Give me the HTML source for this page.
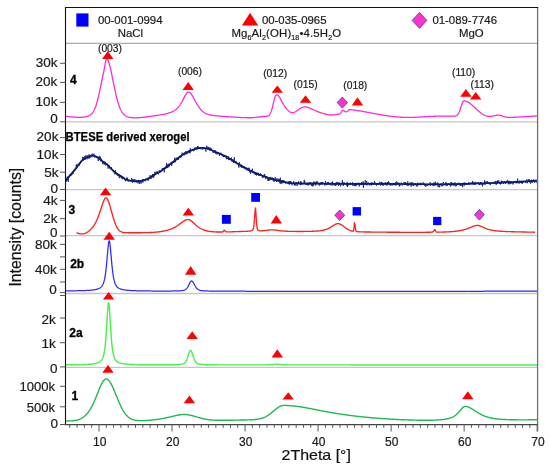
<!DOCTYPE html>
<html><head><meta charset="utf-8"><title>XRD patterns</title>
<style>html,body{margin:0;padding:0;background:#fff;width:550px;height:470px;overflow:hidden}svg{display:block}</style>
</head><body>
<svg width="550" height="470" viewBox="0 0 550 470">
<rect width="550" height="470" fill="#fff"/>
<line x1="65.5" y1="43.4" x2="537.5" y2="43.4" stroke="#ababab" stroke-width="1.2"/>
<line x1="65.5" y1="121.9" x2="537.5" y2="121.9" stroke="#c6c6c6" stroke-width="1.3"/>
<line x1="65.5" y1="189.6" x2="537.5" y2="189.6" stroke="#c6c6c6" stroke-width="1.3"/>
<line x1="65.5" y1="235.6" x2="537.5" y2="235.6" stroke="#c6c6c6" stroke-width="1.3"/>
<line x1="65.5" y1="293.5" x2="537.5" y2="293.5" stroke="#c6c6c6" stroke-width="1.3"/>
<line x1="65.5" y1="367.3" x2="537.5" y2="367.3" stroke="#c6c6c6" stroke-width="1.3"/>
<path d="M65.50 116.27L66.00 116.32L66.50 116.38L67.00 116.43L67.50 116.49L68.00 116.54L68.50 116.59L69.00 116.65L69.50 116.70L70.00 116.75L70.50 116.80L71.00 116.85L71.50 116.90L72.00 116.95L72.50 116.99L73.00 117.04L73.50 117.08L74.00 117.12L74.50 117.15L75.00 117.19L75.50 117.22L76.00 117.24L76.50 117.27L77.00 117.29L77.50 117.31L78.00 117.32L78.50 117.33L79.00 117.33L79.50 117.33L80.00 117.32L80.50 117.31L81.00 117.29L81.50 117.26L82.00 117.23L82.50 117.19L83.00 117.15L83.50 117.09L84.00 117.03L84.50 116.95L85.00 116.87L85.50 116.77L86.00 116.67L86.50 116.55L87.00 116.42L87.50 116.27L88.00 116.10L88.50 115.91L89.00 115.70L89.50 115.45L90.00 115.16L90.50 114.82L91.00 114.43L91.50 113.98L92.00 113.46L92.50 112.86L93.00 112.16L93.50 111.37L94.00 110.46L94.50 109.44L95.00 108.28L95.50 106.99L96.00 105.56L96.50 103.99L97.00 102.28L97.50 100.43L98.00 98.45L98.50 96.35L99.00 94.14L99.50 91.84L100.00 89.47L100.50 87.06L101.00 84.62L101.50 82.17L102.00 79.75L102.50 77.36L103.00 75.01L103.50 72.68L104.00 70.29L104.50 67.67L105.00 64.89L105.50 62.18L106.00 59.92L106.50 58.60L107.00 58.61L107.50 59.33L108.00 60.32L108.50 61.56L109.00 63.04L109.50 64.74L110.00 66.64L110.50 68.70L111.00 70.91L111.50 73.24L112.00 75.65L112.50 78.12L113.00 80.62L113.50 83.12L114.00 85.60L114.50 88.04L115.00 90.41L115.50 92.70L116.00 94.89L116.50 96.98L117.00 98.95L117.50 100.80L118.00 102.52L118.50 104.12L119.00 105.59L119.50 106.94L120.00 108.18L120.50 109.30L121.00 110.31L121.50 111.22L122.00 112.04L122.50 112.78L123.00 113.43L123.50 114.01L124.00 114.52L124.50 114.98L125.00 115.38L125.50 115.73L126.00 116.04L126.50 116.30L127.00 116.54L127.50 116.74L128.00 116.92L128.50 117.07L129.00 117.21L129.50 117.32L130.00 117.42L130.50 117.50L131.00 117.57L131.50 117.62L132.00 117.67L132.50 117.71L133.00 117.74L133.50 117.76L134.00 117.78L134.50 117.79L135.00 117.80L135.50 117.80L136.00 117.79L136.50 117.78L137.00 117.76L137.50 117.74L138.00 117.71L138.50 117.68L139.00 117.65L139.50 117.61L140.00 117.57L140.50 117.53L141.00 117.49L141.50 117.44L142.00 117.39L142.50 117.34L143.00 117.29L143.50 117.23L144.00 117.18L144.50 117.12L145.00 117.06L145.50 117.00L146.00 116.94L146.50 116.88L147.00 116.82L147.50 116.75L148.00 116.69L148.50 116.62L149.00 116.55L149.50 116.49L150.00 116.42L150.50 116.35L151.00 116.28L151.50 116.21L152.00 116.14L152.50 116.07L153.00 116.00L153.50 115.93L154.00 115.85L154.50 115.78L155.00 115.71L155.50 115.64L156.00 115.56L156.50 115.49L157.00 115.42L157.50 115.34L158.00 115.27L158.50 115.20L159.00 115.12L159.50 115.05L160.00 114.97L160.50 114.89L161.00 114.81L161.50 114.73L162.00 114.65L162.50 114.56L163.00 114.46L163.50 114.37L164.00 114.26L164.50 114.16L165.00 114.05L165.50 113.94L166.00 113.82L166.50 113.69L167.00 113.56L167.50 113.43L168.00 113.29L168.50 113.14L169.00 112.98L169.50 112.81L170.00 112.64L170.50 112.46L171.00 112.26L171.50 112.05L172.00 111.83L172.50 111.60L173.00 111.35L173.50 111.08L174.00 110.79L174.50 110.48L175.00 110.15L175.50 109.80L176.00 109.41L176.50 109.00L177.00 108.55L177.50 108.06L178.00 107.54L178.50 106.97L179.00 106.37L179.50 105.71L180.00 105.01L180.50 104.26L181.00 103.47L181.50 102.62L182.00 101.73L182.50 100.80L183.00 99.83L183.50 98.84L184.00 97.84L184.50 96.84L185.00 95.87L185.50 94.95L186.00 94.11L186.50 93.38L187.00 92.78L187.50 92.34L188.00 92.09L188.50 92.02L189.00 92.12L189.50 92.34L190.00 92.69L190.50 93.16L191.00 93.73L191.50 94.39L192.00 95.13L192.50 95.93L193.00 96.79L193.50 97.68L194.00 98.59L194.50 99.52L195.00 100.46L195.50 101.38L196.00 102.30L196.50 103.20L197.00 104.07L197.50 104.91L198.00 105.73L198.50 106.50L199.00 107.24L199.50 107.94L200.00 108.60L200.50 109.21L201.00 109.79L201.50 110.33L202.00 110.83L202.50 111.29L203.00 111.71L203.50 112.10L204.00 112.46L204.50 112.78L205.00 113.08L205.50 113.35L206.00 113.60L206.50 113.82L207.00 114.02L207.50 114.20L208.00 114.37L208.50 114.52L209.00 114.66L209.50 114.78L210.00 114.90L210.50 115.00L211.00 115.10L211.50 115.18L212.00 115.26L212.50 115.34L213.00 115.41L213.50 115.47L214.00 115.54L214.50 115.59L215.00 115.65L215.50 115.70L216.00 115.75L216.50 115.80L217.00 115.84L217.50 115.89L218.00 115.94L218.50 115.98L219.00 116.02L219.50 116.07L220.00 116.11L220.50 116.15L221.00 116.19L221.50 116.23L222.00 116.28L222.50 116.32L223.00 116.36L223.50 116.39L224.00 116.43L224.50 116.47L225.00 116.51L225.50 116.55L226.00 116.59L226.50 116.63L227.00 116.66L227.50 116.70L228.00 116.74L228.50 116.77L229.00 116.81L229.50 116.85L230.00 116.88L230.50 116.92L231.00 116.95L231.50 116.98L232.00 117.02L232.50 117.05L233.00 117.08L233.50 117.12L234.00 117.15L234.50 117.18L235.00 117.21L235.50 117.24L236.00 117.27L236.50 117.30L237.00 117.33L237.50 117.36L238.00 117.38L238.50 117.41L239.00 117.44L239.50 117.46L240.00 117.48L240.50 117.51L241.00 117.53L241.50 117.55L242.00 117.57L242.50 117.59L243.00 117.61L243.50 117.63L244.00 117.65L244.50 117.67L245.00 117.68L245.50 117.69L246.00 117.71L246.50 117.72L247.00 117.73L247.50 117.74L248.00 117.75L248.50 117.76L249.00 117.76L249.50 117.77L250.00 117.77L250.50 117.77L251.00 117.76L251.50 117.75L252.00 117.72L252.50 117.69L253.00 117.66L253.50 117.61L254.00 117.57L254.50 117.52L255.00 117.46L255.50 117.40L256.00 117.34L256.50 117.28L257.00 117.21L257.50 117.15L258.00 117.08L258.50 117.02L259.00 116.95L259.50 116.88L260.00 116.82L260.50 116.76L261.00 116.70L261.50 116.64L262.00 116.59L262.50 116.54L263.00 116.50L263.50 116.46L264.00 116.43L264.50 116.40L265.00 116.37L265.50 116.34L266.00 116.31L266.50 116.27L267.00 116.19L267.50 116.08L268.00 115.90L268.50 115.63L269.00 115.25L269.50 114.72L270.00 114.00L270.50 113.06L271.00 111.89L271.50 110.46L272.00 108.78L272.50 106.89L273.00 104.84L273.50 102.72L274.00 100.65L274.50 98.73L275.00 97.11L275.50 95.87L276.00 95.11L276.50 94.84L277.00 94.83L277.50 95.00L278.00 95.35L278.50 95.86L279.00 96.50L279.50 97.25L280.00 98.09L280.50 98.99L281.00 99.93L281.50 100.88L282.00 101.83L282.50 102.76L283.00 103.66L283.50 104.52L284.00 105.33L284.50 106.10L285.00 106.82L285.50 107.49L286.00 108.14L286.50 108.76L287.00 109.34L287.50 109.89L288.00 110.40L288.50 110.87L289.00 111.29L289.50 111.67L290.00 111.99L290.50 112.25L291.00 112.46L291.50 112.60L292.00 112.68L292.50 112.70L293.00 112.66L293.50 112.56L294.00 112.42L294.50 112.22L295.00 111.98L295.50 111.71L296.00 111.41L296.50 111.08L297.00 110.74L297.50 110.38L298.00 110.02L298.50 109.66L299.00 109.31L299.50 108.96L300.00 108.63L300.50 108.32L301.00 108.03L301.50 107.77L302.00 107.54L302.50 107.34L303.00 107.18L303.50 107.05L304.00 106.96L304.50 106.91L305.00 106.89L305.50 106.90L306.00 106.94L306.50 107.01L307.00 107.10L307.50 107.22L308.00 107.37L308.50 107.53L309.00 107.71L309.50 107.91L310.00 108.12L310.50 108.34L311.00 108.57L311.50 108.81L312.00 109.05L312.50 109.30L313.00 109.54L313.50 109.79L314.00 110.03L314.50 110.27L315.00 110.50L315.50 110.73L316.00 110.95L316.50 111.17L317.00 111.37L317.50 111.57L318.00 111.77L318.50 111.95L319.00 112.13L319.50 112.30L320.00 112.46L320.50 112.62L321.00 112.77L321.50 112.93L322.00 113.09L322.50 113.25L323.00 113.41L323.50 113.56L324.00 113.71L324.50 113.85L325.00 113.99L325.50 114.12L326.00 114.25L326.50 114.37L327.00 114.48L327.50 114.59L328.00 114.68L328.50 114.77L329.00 114.84L329.50 114.90L330.00 114.94L330.50 114.98L331.00 115.00L331.50 115.00L332.00 114.99L332.50 114.97L333.00 114.94L333.50 114.90L334.00 114.85L334.50 114.79L335.00 114.74L335.50 114.67L336.00 114.60L336.50 114.54L337.00 114.47L337.50 114.39L338.00 114.32L338.50 114.24L339.00 114.15L339.50 114.02L340.00 113.80L340.50 113.41L341.00 112.80L341.50 111.94L342.00 110.99L342.50 110.30L343.00 110.22L343.50 110.47L344.00 110.87L344.50 111.27L345.00 111.57L345.50 111.74L346.00 111.79L346.50 111.70L347.00 111.50L347.50 111.19L348.00 110.81L348.50 110.38L349.00 109.98L349.50 109.67L350.00 109.53L350.50 109.58L351.00 109.67L351.50 109.75L352.00 109.83L352.50 109.90L353.00 109.97L353.50 110.05L354.00 110.12L354.50 110.19L355.00 110.26L355.50 110.33L356.00 110.40L356.50 110.47L357.00 110.54L357.50 110.61L358.00 110.68L358.50 110.76L359.00 110.83L359.50 110.91L360.00 110.99L360.50 111.07L361.00 111.15L361.50 111.23L362.00 111.31L362.50 111.39L363.00 111.48L363.50 111.56L364.00 111.65L364.50 111.74L365.00 111.83L365.50 111.91L366.00 112.00L366.50 112.10L367.00 112.19L367.50 112.28L368.00 112.37L368.50 112.46L369.00 112.56L369.50 112.65L370.00 112.74L370.50 112.84L371.00 112.93L371.50 113.03L372.00 113.12L372.50 113.22L373.00 113.31L373.50 113.41L374.00 113.50L374.50 113.60L375.00 113.69L375.50 113.78L376.00 113.88L376.50 113.97L377.00 114.06L377.50 114.15L378.00 114.25L378.50 114.34L379.00 114.43L379.50 114.51L380.00 114.60L380.50 114.69L381.00 114.78L381.50 114.86L382.00 114.95L382.50 115.03L383.00 115.11L383.50 115.19L384.00 115.27L384.50 115.35L385.00 115.43L385.50 115.51L386.00 115.58L386.50 115.66L387.00 115.73L387.50 115.80L388.00 115.87L388.50 115.94L389.00 116.01L389.50 116.08L390.00 116.14L390.50 116.20L391.00 116.27L391.50 116.33L392.00 116.39L392.50 116.44L393.00 116.50L393.50 116.55L394.00 116.61L394.50 116.66L395.00 116.71L395.50 116.76L396.00 116.81L396.50 116.86L397.00 116.90L397.50 116.94L398.00 116.99L398.50 117.03L399.00 117.07L399.50 117.11L400.00 117.14L400.50 117.18L401.00 117.21L401.50 117.24L402.00 117.27L402.50 117.29L403.00 117.31L403.50 117.33L404.00 117.35L404.50 117.37L405.00 117.38L405.50 117.39L406.00 117.40L406.50 117.40L407.00 117.41L407.50 117.41L408.00 117.41L408.50 117.40L409.00 117.40L409.50 117.40L410.00 117.39L410.50 117.38L411.00 117.37L411.50 117.36L412.00 117.34L412.50 117.33L413.00 117.31L413.50 117.30L414.00 117.28L414.50 117.26L415.00 117.24L415.50 117.22L416.00 117.19L416.50 117.17L417.00 117.15L417.50 117.12L418.00 117.10L418.50 117.07L419.00 117.04L419.50 117.02L420.00 116.99L420.50 116.96L421.00 116.93L421.50 116.90L422.00 116.88L422.50 116.85L423.00 116.82L423.50 116.79L424.00 116.76L424.50 116.73L425.00 116.70L425.50 116.67L426.00 116.64L426.50 116.62L427.00 116.59L427.50 116.56L428.00 116.53L428.50 116.51L429.00 116.48L429.50 116.46L430.00 116.43L430.50 116.41L431.00 116.38L431.50 116.36L432.00 116.34L432.50 116.32L433.00 116.30L433.50 116.28L434.00 116.26L434.50 116.25L435.00 116.23L435.50 116.22L436.00 116.20L436.50 116.19L437.00 116.18L437.50 116.17L438.00 116.16L438.50 116.16L439.00 116.15L439.50 116.15L440.00 116.15L440.50 116.15L441.00 116.15L441.50 116.15L442.00 116.15L442.50 116.15L443.00 116.15L443.50 116.15L444.00 116.15L444.50 116.15L445.00 116.15L445.50 116.14L446.00 116.14L446.50 116.14L447.00 116.14L447.50 116.14L448.00 116.14L448.50 116.14L449.00 116.14L449.50 116.14L450.00 116.14L450.50 116.14L451.00 116.14L451.50 116.14L452.00 116.14L452.50 116.13L453.00 116.13L453.50 116.12L454.00 116.10L454.50 116.07L455.00 116.02L455.50 115.92L456.00 115.77L456.50 115.55L457.00 115.23L457.50 114.78L458.00 114.17L458.50 113.40L459.00 112.43L459.50 111.28L460.00 109.95L460.50 108.49L461.00 106.94L461.50 105.39L462.00 103.93L462.50 102.65L463.00 101.65L463.50 101.00L464.00 100.76L464.50 100.82L465.00 100.92L465.50 101.05L466.00 101.21L466.50 101.39L467.00 101.61L467.50 101.85L468.00 102.12L468.50 102.41L469.00 102.73L469.50 103.07L470.00 103.43L470.50 103.81L471.00 104.20L471.50 104.61L472.00 105.04L472.50 105.47L473.00 105.92L473.50 106.38L474.00 106.84L474.50 107.31L475.00 107.78L475.50 108.25L476.00 108.72L476.50 109.19L477.00 109.65L477.50 110.11L478.00 110.56L478.50 111.00L479.00 111.44L479.50 111.86L480.00 112.27L480.50 112.66L481.00 113.04L481.50 113.41L482.00 113.76L482.50 114.09L483.00 114.40L483.50 114.69L484.00 114.97L484.50 115.22L485.00 115.45L485.50 115.65L486.00 115.83L486.50 115.98L487.00 116.11L487.50 116.22L488.00 116.29L488.50 116.35L489.00 116.38L489.50 116.39L490.00 116.38L490.50 116.35L491.00 116.30L491.50 116.23L492.00 116.15L492.50 116.06L493.00 115.96L493.50 115.85L494.00 115.75L494.50 115.64L495.00 115.53L495.50 115.43L496.00 115.34L496.50 115.26L497.00 115.19L497.50 115.13L498.00 115.10L498.50 115.08L499.00 115.09L499.50 115.15L500.00 115.24L500.50 115.37L501.00 115.52L501.50 115.69L502.00 115.87L502.50 116.06L503.00 116.25L503.50 116.43L504.00 116.60L504.50 116.75L505.00 116.88L505.50 117.00L506.00 117.09L506.50 117.17L507.00 117.24L507.50 117.28L508.00 117.32L508.50 117.34L509.00 117.36L509.50 117.37L510.00 117.37L510.50 117.36L511.00 117.36L511.50 117.35L512.00 117.34L512.50 117.32L513.00 117.31L513.50 117.29L514.00 117.27L514.50 117.25L515.00 117.23L515.50 117.21L516.00 117.19L516.50 117.17L517.00 117.15L517.50 117.12L518.00 117.10L518.50 117.07L519.00 117.05L519.50 117.03L520.00 117.00L520.50 116.97L521.00 116.95L521.50 116.92L522.00 116.89L522.50 116.87L523.00 116.84L523.50 116.81L524.00 116.78L524.50 116.75L525.00 116.72L525.50 116.69L526.00 116.66L526.50 116.63L527.00 116.60L527.50 116.57L528.00 116.54L528.50 116.50L529.00 116.47L529.50 116.44L530.00 116.40L530.50 116.37L531.00 116.34L531.50 116.30L532.00 116.27L532.50 116.23L533.00 116.19L533.50 116.16L534.00 116.12L534.50 116.09L535.00 116.05L535.50 116.01L536.00 115.97L536.50 115.94L537.00 115.90L537.50 115.86" fill="none" stroke="#ff2ad6" stroke-width="1.3" stroke-linejoin="round"/>
<path d="M76.50 232.73L77.00 232.92L77.50 233.09L78.00 233.25L78.50 233.40L79.00 233.54L79.50 233.65L80.00 233.75L80.50 233.83L81.00 233.89L81.50 233.92L82.00 233.93L82.50 233.92L83.00 233.87L83.50 233.79L84.00 233.68L84.50 233.53L85.00 233.35L85.50 233.13L86.00 232.89L86.50 232.62L87.00 232.33L87.50 232.01L88.00 231.66L88.50 231.29L89.00 230.89L89.50 230.47L90.00 230.02L90.50 229.55L91.00 229.06L91.50 228.54L92.00 228.00L92.50 227.42L93.00 226.79L93.50 226.10L94.00 225.35L94.50 224.54L95.00 223.67L95.50 222.74L96.00 221.74L96.50 220.68L97.00 219.57L97.50 218.39L98.00 217.15L98.50 215.87L99.00 214.53L99.50 213.14L100.00 211.72L100.50 210.26L101.00 208.78L101.50 207.29L102.00 205.80L102.50 204.32L103.00 202.89L103.50 201.54L104.00 200.31L104.50 199.25L105.00 198.42L105.50 197.91L106.00 197.75L106.50 197.99L107.00 198.55L107.50 199.35L108.00 200.36L108.50 201.57L109.00 202.95L109.50 204.48L110.00 206.12L110.50 207.86L111.00 209.65L111.50 211.46L112.00 213.28L112.50 215.07L113.00 216.82L113.50 218.50L114.00 220.10L114.50 221.60L115.00 223.00L115.50 224.28L116.00 225.45L116.50 226.51L117.00 227.46L117.50 228.29L118.00 229.03L118.50 229.66L119.00 230.21L119.50 230.68L120.00 231.07L120.50 231.41L121.00 231.68L121.50 231.91L122.00 232.09L122.50 232.24L123.00 232.35L123.50 232.44L124.00 232.52L124.50 232.57L125.00 232.61L125.50 232.64L126.00 232.66L126.50 232.68L127.00 232.69L127.50 232.70L128.00 232.70L128.50 232.70L129.00 232.71L129.50 232.71L130.00 232.71L130.50 232.71L131.00 232.71L131.50 232.71L132.00 232.71L132.50 232.71L133.00 232.71L133.50 232.71L134.00 232.71L134.50 232.71L135.00 232.71L135.50 232.71L136.00 232.71L136.50 232.71L137.00 232.71L137.50 232.71L138.00 232.71L138.50 232.71L139.00 232.71L139.50 232.70L140.00 232.70L140.50 232.70L141.00 232.70L141.50 232.70L142.00 232.69L142.50 232.69L143.00 232.68L143.50 232.68L144.00 232.67L144.50 232.67L145.00 232.66L145.50 232.65L146.00 232.64L146.50 232.63L147.00 232.62L147.50 232.61L148.00 232.59L148.50 232.58L149.00 232.56L149.50 232.54L150.00 232.53L150.50 232.50L151.00 232.48L151.50 232.46L152.00 232.43L152.50 232.40L153.00 232.37L153.50 232.34L154.00 232.31L154.50 232.27L155.00 232.23L155.50 232.19L156.00 232.15L156.50 232.10L157.00 232.05L157.50 232.00L158.00 231.94L158.50 231.88L159.00 231.82L159.50 231.75L160.00 231.69L160.50 231.61L161.00 231.54L161.50 231.46L162.00 231.37L162.50 231.29L163.00 231.20L163.50 231.10L164.00 231.00L164.50 230.90L165.00 230.79L165.50 230.68L166.00 230.56L166.50 230.43L167.00 230.30L167.50 230.17L168.00 230.03L168.50 229.88L169.00 229.72L169.50 229.56L170.00 229.38L170.50 229.20L171.00 229.01L171.50 228.82L172.00 228.61L172.50 228.39L173.00 228.17L173.50 227.93L174.00 227.68L174.50 227.42L175.00 227.15L175.50 226.87L176.00 226.57L176.50 226.27L177.00 225.95L177.50 225.63L178.00 225.29L178.50 224.94L179.00 224.58L179.50 224.22L180.00 223.85L180.50 223.48L181.00 223.10L181.50 222.72L182.00 222.35L182.50 221.99L183.00 221.63L183.50 221.29L184.00 220.97L184.50 220.67L185.00 220.40L185.50 220.16L186.00 219.96L186.50 219.79L187.00 219.67L187.50 219.58L188.00 219.55L188.50 219.57L189.00 219.65L189.50 219.82L190.00 220.04L190.50 220.33L191.00 220.67L191.50 221.05L192.00 221.47L192.50 221.92L193.00 222.38L193.50 222.86L194.00 223.34L194.50 223.82L195.00 224.29L195.50 224.75L196.00 225.20L196.50 225.63L197.00 226.05L197.50 226.45L198.00 226.83L198.50 227.20L199.00 227.54L199.50 227.87L200.00 228.18L200.50 228.47L201.00 228.74L201.50 228.99L202.00 229.23L202.50 229.46L203.00 229.67L203.50 229.86L204.00 230.04L204.50 230.21L205.00 230.37L205.50 230.52L206.00 230.66L206.50 230.78L207.00 230.90L207.50 231.01L208.00 231.11L208.50 231.20L209.00 231.29L209.50 231.37L210.00 231.44L210.50 231.51L211.00 231.57L211.50 231.63L212.00 231.68L212.50 231.73L213.00 231.77L213.50 231.81L214.00 231.84L214.50 231.87L215.00 231.90L215.50 231.93L216.00 231.95L216.50 231.97L217.00 231.98L217.50 232.00L218.00 232.01L218.50 232.01L219.00 232.02L219.50 232.02L220.00 232.02L220.50 232.02L221.00 232.01L221.50 232.00L222.00 231.98L222.50 231.94L223.00 231.77L223.50 231.18L224.00 230.19L224.50 230.12L225.00 230.91L225.50 231.62L226.00 231.90L226.50 231.95L227.00 231.94L227.50 231.93L228.00 231.92L228.50 231.90L229.00 231.88L229.50 231.87L230.00 231.85L230.50 231.84L231.00 231.82L231.50 231.80L232.00 231.78L232.50 231.77L233.00 231.75L233.50 231.73L234.00 231.71L234.50 231.70L235.00 231.68L235.50 231.66L236.00 231.64L236.50 231.62L237.00 231.61L237.50 231.59L238.00 231.57L238.50 231.56L239.00 231.54L239.50 231.52L240.00 231.51L240.50 231.49L241.00 231.48L241.50 231.46L242.00 231.44L242.50 231.43L243.00 231.41L243.50 231.40L244.00 231.38L244.50 231.37L245.00 231.35L245.50 231.33L246.00 231.32L246.50 231.30L247.00 231.28L247.50 231.25L248.00 231.23L248.50 231.19L249.00 231.16L249.50 231.11L250.00 231.05L250.50 230.97L251.00 230.87L251.50 230.72L252.00 230.51L252.50 230.18L253.00 229.55L253.50 228.11L254.00 224.89L254.50 218.98L255.00 211.47L255.50 208.00L256.00 214.47L256.50 222.80L257.00 227.54L257.50 229.42L258.00 230.11L258.50 230.42L259.00 230.60L259.50 230.71L260.00 230.77L260.50 230.80L261.00 230.81L261.50 230.80L262.00 230.78L262.50 230.75L263.00 230.71L263.50 230.66L264.00 230.61L264.50 230.56L265.00 230.50L265.50 230.44L266.00 230.38L266.50 230.31L267.00 230.25L267.50 230.19L268.00 230.13L268.50 230.08L269.00 230.02L269.50 229.98L270.00 229.93L270.50 229.90L271.00 229.87L271.50 229.85L272.00 229.83L272.50 229.83L273.00 229.83L273.50 229.85L274.00 229.88L274.50 229.93L275.00 229.99L275.50 230.06L276.00 230.13L276.50 230.21L277.00 230.29L277.50 230.37L278.00 230.45L278.50 230.52L279.00 230.60L279.50 230.67L280.00 230.73L280.50 230.79L281.00 230.85L281.50 230.90L282.00 230.95L282.50 230.99L283.00 231.03L283.50 231.07L284.00 231.10L284.50 231.14L285.00 231.16L285.50 231.19L286.00 231.22L286.50 231.24L287.00 231.26L287.50 231.28L288.00 231.30L288.50 231.31L289.00 231.33L289.50 231.34L290.00 231.36L290.50 231.37L291.00 231.38L291.50 231.39L292.00 231.40L292.50 231.41L293.00 231.42L293.50 231.42L294.00 231.43L294.50 231.43L295.00 231.44L295.50 231.44L296.00 231.45L296.50 231.45L297.00 231.45L297.50 231.46L298.00 231.46L298.50 231.46L299.00 231.46L299.50 231.46L300.00 231.46L300.50 231.46L301.00 231.46L301.50 231.46L302.00 231.45L302.50 231.45L303.00 231.45L303.50 231.45L304.00 231.44L304.50 231.44L305.00 231.43L305.50 231.43L306.00 231.42L306.50 231.42L307.00 231.41L307.50 231.40L308.00 231.40L308.50 231.39L309.00 231.38L309.50 231.37L310.00 231.36L310.50 231.34L311.00 231.33L311.50 231.32L312.00 231.30L312.50 231.29L313.00 231.27L313.50 231.25L314.00 231.23L314.50 231.20L315.00 231.18L315.50 231.15L316.00 231.12L316.50 231.09L317.00 231.06L317.50 231.02L318.00 230.98L318.50 230.93L319.00 230.88L319.50 230.82L320.00 230.76L320.50 230.70L321.00 230.62L321.50 230.54L322.00 230.45L322.50 230.36L323.00 230.25L323.50 230.14L324.00 230.01L324.50 229.88L325.00 229.73L325.50 229.57L326.00 229.40L326.50 229.22L327.00 229.02L327.50 228.81L328.00 228.58L328.50 228.34L329.00 228.09L329.50 227.82L330.00 227.54L330.50 227.25L331.00 226.95L331.50 226.63L332.00 226.32L332.50 226.00L333.00 225.68L333.50 225.36L334.00 225.05L334.50 224.76L335.00 224.48L335.50 224.24L336.00 224.03L336.50 223.86L337.00 223.73L337.50 223.65L338.00 223.63L338.50 223.66L339.00 223.75L339.50 223.89L340.00 224.08L340.50 224.31L341.00 224.58L341.50 224.89L342.00 225.22L342.50 225.57L343.00 225.94L343.50 226.32L344.00 226.70L344.50 227.08L345.00 227.46L345.50 227.83L346.00 228.18L346.50 228.52L347.00 228.85L347.50 229.16L348.00 229.45L348.50 229.71L349.00 229.96L349.50 230.19L350.00 230.40L350.50 230.58L351.00 230.75L351.50 230.90L352.00 231.04L352.50 231.16L353.00 231.25L353.50 230.94L354.00 227.89L354.50 222.68L355.00 224.46L355.50 228.87L356.00 230.92L356.50 231.42L357.00 231.57L357.50 231.65L358.00 231.71L358.50 231.75L359.00 231.78L359.50 231.81L360.00 231.83L360.50 231.85L361.00 231.87L361.50 231.89L362.00 231.90L362.50 231.91L363.00 231.92L363.50 231.94L364.00 231.95L364.50 231.95L365.00 231.96L365.50 231.97L366.00 231.98L366.50 231.99L367.00 231.99L367.50 232.00L368.00 232.01L368.50 232.02L369.00 232.02L369.50 232.03L370.00 232.03L370.50 232.04L371.00 232.05L371.50 232.05L372.00 232.06L372.50 232.06L373.00 232.07L373.50 232.08L374.00 232.08L374.50 232.09L375.00 232.09L375.50 232.10L376.00 232.10L376.50 232.11L377.00 232.11L377.50 232.12L378.00 232.12L378.50 232.13L379.00 232.13L379.50 232.14L380.00 232.14L380.50 232.15L381.00 232.15L381.50 232.15L382.00 232.16L382.50 232.16L383.00 232.17L383.50 232.17L384.00 232.18L384.50 232.18L385.00 232.19L385.50 232.19L386.00 232.19L386.50 232.20L387.00 232.20L387.50 232.21L388.00 232.21L388.50 232.22L389.00 232.22L389.50 232.22L390.00 232.23L390.50 232.23L391.00 232.23L391.50 232.24L392.00 232.24L392.50 232.25L393.00 232.25L393.50 232.25L394.00 232.26L394.50 232.26L395.00 232.26L395.50 232.27L396.00 232.27L396.50 232.27L397.00 232.28L397.50 232.28L398.00 232.28L398.50 232.29L399.00 232.29L399.50 232.29L400.00 232.29L400.50 232.30L401.00 232.30L401.50 232.30L402.00 232.31L402.50 232.31L403.00 232.31L403.50 232.31L404.00 232.31L404.50 232.32L405.00 232.32L405.50 232.32L406.00 232.32L406.50 232.32L407.00 232.33L407.50 232.33L408.00 232.33L408.50 232.33L409.00 232.33L409.50 232.33L410.00 232.34L410.50 232.34L411.00 232.34L411.50 232.34L412.00 232.34L412.50 232.34L413.00 232.34L413.50 232.34L414.00 232.34L414.50 232.34L415.00 232.34L415.50 232.34L416.00 232.34L416.50 232.34L417.00 232.34L417.50 232.34L418.00 232.34L418.50 232.34L419.00 232.33L419.50 232.33L420.00 232.33L420.50 232.33L421.00 232.33L421.50 232.32L422.00 232.32L422.50 232.32L423.00 232.32L423.50 232.31L424.00 232.31L424.50 232.31L425.00 232.30L425.50 232.30L426.00 232.29L426.50 232.29L427.00 232.28L427.50 232.28L428.00 232.27L428.50 232.26L429.00 232.25L429.50 232.24L430.00 232.23L430.50 232.21L431.00 232.19L431.50 232.16L432.00 232.11L432.50 232.01L433.00 231.78L433.50 231.29L434.00 230.47L434.50 229.60L435.00 229.59L435.50 230.81L436.00 231.77L436.50 232.09L437.00 232.15L437.50 232.16L438.00 232.15L438.50 232.15L439.00 232.14L439.50 232.13L440.00 232.12L440.50 232.11L441.00 232.10L441.50 232.09L442.00 232.08L442.50 232.06L443.00 232.05L443.50 232.03L444.00 232.02L444.50 232.00L445.00 231.98L445.50 231.96L446.00 231.94L446.50 231.92L447.00 231.90L447.50 231.88L448.00 231.85L448.50 231.83L449.00 231.80L449.50 231.77L450.00 231.74L450.50 231.71L451.00 231.68L451.50 231.64L452.00 231.60L452.50 231.56L453.00 231.52L453.50 231.48L454.00 231.43L454.50 231.38L455.00 231.33L455.50 231.27L456.00 231.22L456.50 231.15L457.00 231.09L457.50 231.02L458.00 230.95L458.50 230.87L459.00 230.79L459.50 230.71L460.00 230.62L460.50 230.52L461.00 230.43L461.50 230.32L462.00 230.21L462.50 230.10L463.00 229.98L463.50 229.85L464.00 229.72L464.50 229.58L465.00 229.43L465.50 229.28L466.00 229.12L466.50 228.95L467.00 228.78L467.50 228.60L468.00 228.42L468.50 228.23L469.00 228.03L469.50 227.83L470.00 227.63L470.50 227.42L471.00 227.22L471.50 227.01L472.00 226.81L472.50 226.61L473.00 226.42L473.50 226.24L474.00 226.07L474.50 225.92L475.00 225.78L475.50 225.66L476.00 225.57L476.50 225.50L477.00 225.45L477.50 225.43L478.00 225.45L478.50 225.51L479.00 225.60L479.50 225.74L480.00 225.90L480.50 226.09L481.00 226.30L481.50 226.52L482.00 226.76L482.50 227.00L483.00 227.24L483.50 227.48L484.00 227.71L484.50 227.94L485.00 228.16L485.50 228.37L486.00 228.58L486.50 228.77L487.00 228.95L487.50 229.12L488.00 229.28L488.50 229.43L489.00 229.57L489.50 229.70L490.00 229.82L490.50 229.94L491.00 230.05L491.50 230.15L492.00 230.24L492.50 230.33L493.00 230.41L493.50 230.49L494.00 230.56L494.50 230.63L495.00 230.70L495.50 230.76L496.00 230.81L496.50 230.87L497.00 230.92L497.50 230.97L498.00 231.01L498.50 231.06L499.00 231.10L499.50 231.14L500.00 231.18L500.50 231.21L501.00 231.25L501.50 231.28L502.00 231.31L502.50 231.34L503.00 231.37L503.50 231.40L504.00 231.42L504.50 231.45L505.00 231.47L505.50 231.49L506.00 231.51L506.50 231.53L507.00 231.56L507.50 231.57L508.00 231.59L508.50 231.61L509.00 231.63L509.50 231.65L510.00 231.66L510.50 231.68L511.00 231.69L511.50 231.71L512.00 231.72L512.50 231.74L513.00 231.75L513.50 231.77L514.00 231.78L514.50 231.79L515.00 231.80L515.50 231.82L516.00 231.83L516.50 231.84L517.00 231.85L517.50 231.87L518.00 231.88L518.50 231.89L519.00 231.90L519.50 231.91L520.00 231.92L520.50 231.93L521.00 231.94L521.50 231.95L522.00 231.96L522.50 231.97L523.00 231.98L523.50 231.99L524.00 232.00L524.50 232.02L525.00 232.03L525.50 232.04L526.00 232.05L526.50 232.06L527.00 232.07L527.50 232.08L528.00 232.09L528.50 232.10L529.00 232.11L529.50 232.12L530.00 232.13L530.50 232.14L531.00 232.15L531.50 232.16L532.00 232.17L532.50 232.18L533.00 232.19L533.50 232.20L534.00 232.21L534.50 232.22L535.00 232.23" fill="none" stroke="#ff2020" stroke-width="1.35" stroke-linejoin="round"/>
<path d="M65.50 290.84L66.00 290.84L66.50 290.84L67.00 290.84L67.50 290.83L68.00 290.83L68.50 290.83L69.00 290.83L69.50 290.82L70.00 290.82L70.50 290.82L71.00 290.81L71.50 290.81L72.00 290.80L72.50 290.80L73.00 290.79L73.50 290.79L74.00 290.78L74.50 290.78L75.00 290.77L75.50 290.77L76.00 290.76L76.50 290.75L77.00 290.75L77.50 290.74L78.00 290.73L78.50 290.72L79.00 290.71L79.50 290.70L80.00 290.69L80.50 290.68L81.00 290.67L81.50 290.66L82.00 290.65L82.50 290.63L83.00 290.62L83.50 290.61L84.00 290.59L84.50 290.57L85.00 290.55L85.50 290.53L86.00 290.51L86.50 290.49L87.00 290.47L87.50 290.44L88.00 290.41L88.50 290.38L89.00 290.35L89.50 290.32L90.00 290.28L90.50 290.24L91.00 290.19L91.50 290.15L92.00 290.10L92.50 290.04L93.00 289.98L93.50 289.91L94.00 289.84L94.50 289.75L95.00 289.66L95.50 289.56L96.00 289.45L96.50 289.33L97.00 289.19L97.50 289.04L98.00 288.86L98.50 288.66L99.00 288.44L99.50 288.18L100.00 287.88L100.50 287.52L101.00 287.11L101.50 286.61L102.00 285.99L102.50 285.23L103.00 284.26L103.50 283.03L104.00 281.43L104.50 279.39L105.00 276.80L105.50 273.55L106.00 269.58L106.50 264.86L107.00 259.46L107.50 253.66L108.00 248.00L108.50 243.38L109.00 240.85L109.50 241.15L110.00 244.17L110.50 249.09L111.00 254.84L111.50 260.60L112.00 265.87L112.50 270.45L113.00 274.27L113.50 277.39L114.00 279.86L114.50 281.81L115.00 283.32L115.50 284.50L116.00 285.43L116.50 286.16L117.00 286.75L117.50 287.24L118.00 287.64L118.50 287.98L119.00 288.28L119.50 288.53L120.00 288.75L120.50 288.95L121.00 289.12L121.50 289.28L122.00 289.41L122.50 289.54L123.00 289.65L123.50 289.75L124.00 289.84L124.50 289.92L125.00 289.99L125.50 290.06L126.00 290.13L126.50 290.18L127.00 290.24L127.50 290.29L128.00 290.33L128.50 290.37L129.00 290.41L129.50 290.45L130.00 290.48L130.50 290.51L131.00 290.54L131.50 290.57L132.00 290.60L132.50 290.62L133.00 290.64L133.50 290.66L134.00 290.68L134.50 290.70L135.00 290.72L135.50 290.74L136.00 290.75L136.50 290.77L137.00 290.78L137.50 290.80L138.00 290.81L138.50 290.82L139.00 290.83L139.50 290.84L140.00 290.86L140.50 290.87L141.00 290.88L141.50 290.88L142.00 290.89L142.50 290.90L143.00 290.91L143.50 290.92L144.00 290.92L144.50 290.93L145.00 290.94L145.50 290.94L146.00 290.95L146.50 290.96L147.00 290.96L147.50 290.97L148.00 290.97L148.50 290.98L149.00 290.98L149.50 290.99L150.00 290.99L150.50 290.99L151.00 291.00L151.50 291.00L152.00 291.01L152.50 291.01L153.00 291.01L153.50 291.01L154.00 291.02L154.50 291.02L155.00 291.02L155.50 291.03L156.00 291.03L156.50 291.03L157.00 291.03L157.50 291.03L158.00 291.04L158.50 291.04L159.00 291.04L159.50 291.04L160.00 291.04L160.50 291.04L161.00 291.04L161.50 291.04L162.00 291.04L162.50 291.04L163.00 291.04L163.50 291.04L164.00 291.04L164.50 291.04L165.00 291.04L165.50 291.04L166.00 291.04L166.50 291.04L167.00 291.04L167.50 291.04L168.00 291.03L168.50 291.03L169.00 291.03L169.50 291.03L170.00 291.02L170.50 291.02L171.00 291.02L171.50 291.01L172.00 291.01L172.50 291.00L173.00 290.99L173.50 290.99L174.00 290.98L174.50 290.97L175.00 290.96L175.50 290.95L176.00 290.94L176.50 290.93L177.00 290.91L177.50 290.90L178.00 290.88L178.50 290.86L179.00 290.84L179.50 290.81L180.00 290.79L180.50 290.75L181.00 290.72L181.50 290.67L182.00 290.62L182.50 290.55L183.00 290.47L183.50 290.37L184.00 290.24L184.50 290.06L185.00 289.83L185.50 289.54L186.00 289.16L186.50 288.68L187.00 288.10L187.50 287.40L188.00 286.58L188.50 285.66L189.00 284.67L189.50 283.64L190.00 282.65L190.50 281.79L191.00 281.18L191.50 280.91L192.00 281.01L192.50 281.42L193.00 282.09L193.50 282.93L194.00 283.85L194.50 284.80L195.00 285.71L195.50 286.55L196.00 287.31L196.50 287.98L197.00 288.54L197.50 289.01L198.00 289.40L198.50 289.71L199.00 289.95L199.50 290.15L200.00 290.30L200.50 290.42L201.00 290.51L201.50 290.59L202.00 290.65L202.50 290.70L203.00 290.75L203.50 290.79L204.00 290.82L204.50 290.85L205.00 290.88L205.50 290.90L206.00 290.92L206.50 290.94L207.00 290.96L207.50 290.97L208.00 290.99L208.50 291.00L209.00 291.02L209.50 291.03L210.00 291.04L210.50 291.05L211.00 291.06L211.50 291.07L212.00 291.08L212.50 291.08L213.00 291.09L213.50 291.10L214.00 291.11L214.50 291.11L215.00 291.12L215.50 291.12L216.00 291.13L216.50 291.13L217.00 291.14L217.50 291.14L218.00 291.15L218.50 291.15L219.00 291.15L219.50 291.16L220.00 291.16L220.50 291.16L221.00 291.17L221.50 291.17L222.00 291.17L222.50 291.18L223.00 291.18L223.50 291.18L224.00 291.18L224.50 291.19L225.00 291.19L225.50 291.19L226.00 291.19L226.50 291.20L227.00 291.20L227.50 291.20L228.00 291.20L228.50 291.20L229.00 291.21L229.50 291.21L230.00 291.21L230.50 291.21L231.00 291.21L231.50 291.21L232.00 291.22L232.50 291.22L233.00 291.22L233.50 291.22L234.00 291.22L234.50 291.22L235.00 291.22L235.50 291.22L236.00 291.23L236.50 291.23L237.00 291.23L237.50 291.23L238.00 291.23L238.50 291.23L239.00 291.23L239.50 291.23L240.00 291.23L240.50 291.24L241.00 291.24L241.50 291.24L242.00 291.24L242.50 291.24L243.00 291.24L243.50 291.24L244.00 291.24L244.50 291.24L245.00 291.24L245.50 291.24L246.00 291.25L246.50 291.25L247.00 291.25L247.50 291.25L248.00 291.25L248.50 291.25L249.00 291.25L249.50 291.25L250.00 291.25L250.50 291.25L251.00 291.25L251.50 291.25L252.00 291.25L252.50 291.26L253.00 291.26L253.50 291.26L254.00 291.26L254.50 291.26L255.00 291.26L255.50 291.26L256.00 291.26L256.50 291.26L257.00 291.26L257.50 291.26L258.00 291.26L258.50 291.26L259.00 291.26L259.50 291.26L260.00 291.26L260.50 291.26L261.00 291.26L261.50 291.27L262.00 291.27L262.50 291.27L263.00 291.27L263.50 291.27L264.00 291.27L264.50 291.27L265.00 291.27L265.50 291.27L266.00 291.27L266.50 291.27L267.00 291.27L267.50 291.27L268.00 291.27L268.50 291.27L269.00 291.27L269.50 291.27L270.00 291.27L270.50 291.27L271.00 291.27L271.50 291.27L272.00 291.27L272.50 291.27L273.00 291.27L273.50 291.28L274.00 291.28L274.50 291.28L275.00 291.28L275.50 291.28L276.00 291.28L276.50 291.28L277.00 291.28L277.50 291.28L278.00 291.28L278.50 291.28L279.00 291.28L279.50 291.28L280.00 291.28L280.50 291.28L281.00 291.28L281.50 291.28L282.00 291.28L282.50 291.28L283.00 291.28L283.50 291.28L284.00 291.28L284.50 291.28L285.00 291.28L285.50 291.28L286.00 291.28L286.50 291.28L287.00 291.28L287.50 291.28L288.00 291.28L288.50 291.28L289.00 291.28L289.50 291.28L290.00 291.28L290.50 291.28L291.00 291.28L291.50 291.28L292.00 291.28L292.50 291.28L293.00 291.28L293.50 291.28L294.00 291.28L294.50 291.28L295.00 291.29L295.50 291.29L296.00 291.29L296.50 291.29L297.00 291.29L297.50 291.29L298.00 291.29L298.50 291.29L299.00 291.29L299.50 291.29L300.00 291.29L300.50 291.29L301.00 291.29L301.50 291.29L302.00 291.29L302.50 291.29L303.00 291.29L303.50 291.29L304.00 291.29L304.50 291.29L305.00 291.29L305.50 291.29L306.00 291.29L306.50 291.29L307.00 291.29L307.50 291.29L308.00 291.29L308.50 291.29L309.00 291.29L309.50 291.29L310.00 291.29L310.50 291.29L311.00 291.29L311.50 291.29L312.00 291.29L312.50 291.29L313.00 291.29L313.50 291.29L314.00 291.29L314.50 291.29L315.00 291.29L315.50 291.29L316.00 291.29L316.50 291.29L317.00 291.29L317.50 291.29L318.00 291.29L318.50 291.29L319.00 291.29L319.50 291.29L320.00 291.29L320.50 291.29L321.00 291.29L321.50 291.29L322.00 291.29L322.50 291.29L323.00 291.29L323.50 291.29L324.00 291.29L324.50 291.29L325.00 291.29L325.50 291.29L326.00 291.29L326.50 291.29L327.00 291.29L327.50 291.29L328.00 291.29L328.50 291.29L329.00 291.29L329.50 291.29L330.00 291.29L330.50 291.29L331.00 291.29L331.50 291.29L332.00 291.29L332.50 291.29L333.00 291.29L333.50 291.29L334.00 291.29L334.50 291.29L335.00 291.29L335.50 291.29L336.00 291.29L336.50 291.29L337.00 291.29L337.50 291.29L338.00 291.29L338.50 291.29L339.00 291.29L339.50 291.29L340.00 291.29L340.50 291.29L341.00 291.29L341.50 291.29L342.00 291.29L342.50 291.29L343.00 291.29L343.50 291.29L344.00 291.29L344.50 291.29L345.00 291.29L345.50 291.29L346.00 291.29L346.50 291.29L347.00 291.29L347.50 291.29L348.00 291.29L348.50 291.29L349.00 291.29L349.50 291.29L350.00 291.29L350.50 291.29L351.00 291.29L351.50 291.29L352.00 291.29L352.50 291.29L353.00 291.29L353.50 291.29L354.00 291.29L354.50 291.29L355.00 291.29L355.50 291.29L356.00 291.29L356.50 291.29L357.00 291.29L357.50 291.29L358.00 291.29L358.50 291.29L359.00 291.29L359.50 291.29L360.00 291.29L360.50 291.29L361.00 291.29L361.50 291.29L362.00 291.29L362.50 291.29L363.00 291.29L363.50 291.29L364.00 291.29L364.50 291.29L365.00 291.29L365.50 291.29L366.00 291.29L366.50 291.29L367.00 291.29L367.50 291.29L368.00 291.29L368.50 291.29L369.00 291.29L369.50 291.29L370.00 291.29L370.50 291.29L371.00 291.29L371.50 291.29L372.00 291.29L372.50 291.29L373.00 291.29L373.50 291.29L374.00 291.29L374.50 291.29L375.00 291.29L375.50 291.29L376.00 291.29L376.50 291.29L377.00 291.29L377.50 291.29L378.00 291.29L378.50 291.29L379.00 291.29L379.50 291.29L380.00 291.29L380.50 291.29L381.00 291.29L381.50 291.29L382.00 291.29L382.50 291.29L383.00 291.29L383.50 291.29L384.00 291.29L384.50 291.29L385.00 291.29L385.50 291.29L386.00 291.29L386.50 291.29L387.00 291.29L387.50 291.29L388.00 291.29L388.50 291.29L389.00 291.29L389.50 291.29L390.00 291.29L390.50 291.29L391.00 291.29L391.50 291.29L392.00 291.28L392.50 291.28L393.00 291.28L393.50 291.28L394.00 291.28L394.50 291.28L395.00 291.28L395.50 291.28L396.00 291.28L396.50 291.28L397.00 291.28L397.50 291.28L398.00 291.28L398.50 291.28L399.00 291.28L399.50 291.28L400.00 291.28L400.50 291.28L401.00 291.28L401.50 291.28L402.00 291.28L402.50 291.28L403.00 291.28L403.50 291.28L404.00 291.28L404.50 291.28L405.00 291.28L405.50 291.28L406.00 291.28L406.50 291.28L407.00 291.28L407.50 291.28L408.00 291.28L408.50 291.28L409.00 291.28L409.50 291.28L410.00 291.28L410.50 291.28L411.00 291.28L411.50 291.28L412.00 291.28L412.50 291.28L413.00 291.28L413.50 291.28L414.00 291.28L414.50 291.28L415.00 291.28L415.50 291.28L416.00 291.28L416.50 291.28L417.00 291.28L417.50 291.28L418.00 291.28L418.50 291.28L419.00 291.28L419.50 291.28L420.00 291.28L420.50 291.28L421.00 291.28L421.50 291.28L422.00 291.28L422.50 291.28L423.00 291.28L423.50 291.28L424.00 291.28L424.50 291.28L425.00 291.28L425.50 291.28L426.00 291.28L426.50 291.28L427.00 291.27L427.50 291.27L428.00 291.27L428.50 291.27L429.00 291.27L429.50 291.27L430.00 291.27L430.50 291.27L431.00 291.27L431.50 291.27L432.00 291.27L432.50 291.27L433.00 291.27L433.50 291.27L434.00 291.27L434.50 291.27L435.00 291.27L435.50 291.27L436.00 291.27L436.50 291.27L437.00 291.27L437.50 291.27L438.00 291.27L438.50 291.27L439.00 291.27L439.50 291.27L440.00 291.27L440.50 291.27L441.00 291.27L441.50 291.27L442.00 291.27L442.50 291.27L443.00 291.27L443.50 291.27L444.00 291.27L444.50 291.27L445.00 291.27L445.50 291.27L446.00 291.27L446.50 291.27L447.00 291.27L447.50 291.27L448.00 291.27L448.50 291.27L449.00 291.27L449.50 291.27L450.00 291.26L450.50 291.26L451.00 291.26L451.50 291.26L452.00 291.26L452.50 291.26L453.00 291.26L453.50 291.26L454.00 291.26L454.50 291.26L455.00 291.26L455.50 291.26L456.00 291.26L456.50 291.26L457.00 291.26L457.50 291.26L458.00 291.26L458.50 291.26L459.00 291.26L459.50 291.26L460.00 291.26L460.50 291.26L461.00 291.26L461.50 291.26L462.00 291.26L462.50 291.26L463.00 291.26L463.50 291.26L464.00 291.26L464.50 291.26L465.00 291.26L465.50 291.26L466.00 291.26L466.50 291.26L467.00 291.26L467.50 291.26L468.00 291.26L468.50 291.25L469.00 291.25L469.50 291.25L470.00 291.25L470.50 291.25L471.00 291.25L471.50 291.25L472.00 291.25L472.50 291.25L473.00 291.25L473.50 291.25L474.00 291.25L474.50 291.25L475.00 291.25L475.50 291.25L476.00 291.25L476.50 291.25L477.00 291.25L477.50 291.25L478.00 291.25L478.50 291.25L479.00 291.25L479.50 291.25L480.00 291.25L480.50 291.25L481.00 291.25L481.50 291.25L482.00 291.25L482.50 291.25L483.00 291.25L483.50 291.24L484.00 291.24L484.50 291.24L485.00 291.24L485.50 291.24L486.00 291.24L486.50 291.24L487.00 291.24L487.50 291.24L488.00 291.24L488.50 291.24L489.00 291.24L489.50 291.24L490.00 291.24L490.50 291.24L491.00 291.24L491.50 291.24L492.00 291.24L492.50 291.24L493.00 291.24L493.50 291.24L494.00 291.24L494.50 291.24L495.00 291.24L495.50 291.24L496.00 291.24L496.50 291.24L497.00 291.23L497.50 291.23L498.00 291.23L498.50 291.23L499.00 291.23L499.50 291.23L500.00 291.23L500.50 291.23L501.00 291.23L501.50 291.23L502.00 291.23L502.50 291.23L503.00 291.23L503.50 291.23L504.00 291.23L504.50 291.23L505.00 291.23L505.50 291.23L506.00 291.23L506.50 291.23L507.00 291.23L507.50 291.23L508.00 291.23L508.50 291.23L509.00 291.23L509.50 291.22L510.00 291.22L510.50 291.22L511.00 291.22L511.50 291.22L512.00 291.22L512.50 291.22L513.00 291.22L513.50 291.22L514.00 291.22L514.50 291.22L515.00 291.22L515.50 291.22L516.00 291.22L516.50 291.22L517.00 291.22L517.50 291.22L518.00 291.22L518.50 291.22L519.00 291.22L519.50 291.22L520.00 291.22L520.50 291.21L521.00 291.21L521.50 291.21L522.00 291.21L522.50 291.21L523.00 291.21L523.50 291.21L524.00 291.21L524.50 291.21L525.00 291.21L525.50 291.21L526.00 291.21L526.50 291.21L527.00 291.21L527.50 291.21L528.00 291.21L528.50 291.21L529.00 291.21L529.50 291.21L530.00 291.21L530.50 291.20L531.00 291.20L531.50 291.20L532.00 291.20L532.50 291.20L533.00 291.20L533.50 291.20L534.00 291.20L534.50 291.20L535.00 291.20L535.50 291.20L536.00 291.20L536.50 291.20L537.00 291.20L537.50 291.20" fill="none" stroke="#2a2aff" stroke-width="1.25" stroke-linejoin="round"/>
<path d="M65.50 364.85L66.00 364.85L66.50 364.84L67.00 364.84L67.50 364.84L68.00 364.83L68.50 364.83L69.00 364.82L69.50 364.82L70.00 364.81L70.50 364.81L71.00 364.80L71.50 364.80L72.00 364.79L72.50 364.79L73.00 364.78L73.50 364.78L74.00 364.77L74.50 364.76L75.00 364.76L75.50 364.75L76.00 364.74L76.50 364.73L77.00 364.73L77.50 364.72L78.00 364.71L78.50 364.70L79.00 364.69L79.50 364.68L80.00 364.67L80.50 364.65L81.00 364.64L81.50 364.63L82.00 364.62L82.50 364.60L83.00 364.58L83.50 364.57L84.00 364.55L84.50 364.53L85.00 364.51L85.50 364.49L86.00 364.47L86.50 364.45L87.00 364.42L87.50 364.39L88.00 364.36L88.50 364.33L89.00 364.30L89.50 364.26L90.00 364.22L90.50 364.18L91.00 364.14L91.50 364.09L92.00 364.03L92.50 363.97L93.00 363.91L93.50 363.83L94.00 363.76L94.50 363.67L95.00 363.57L95.50 363.47L96.00 363.35L96.50 363.21L97.00 363.06L97.50 362.89L98.00 362.70L98.50 362.48L99.00 362.23L99.50 361.93L100.00 361.59L100.50 361.19L101.00 360.71L101.50 360.13L102.00 359.42L102.50 358.51L103.00 357.33L103.50 355.78L104.00 353.70L104.50 350.92L105.00 347.23L105.50 342.44L106.00 336.41L106.50 329.14L107.00 320.92L107.50 312.58L108.00 305.72L108.50 302.39L109.00 303.86L109.50 309.54L110.00 317.52L110.50 325.93L111.00 333.64L111.50 340.18L112.00 345.45L112.50 349.56L113.00 352.68L113.50 355.02L114.00 356.76L114.50 358.08L115.00 359.08L115.50 359.86L116.00 360.49L116.50 361.01L117.00 361.44L117.50 361.80L118.00 362.11L118.50 362.38L119.00 362.61L119.50 362.81L120.00 362.99L120.50 363.15L121.00 363.29L121.50 363.41L122.00 363.53L122.50 363.63L123.00 363.72L123.50 363.80L124.00 363.87L124.50 363.94L125.00 364.00L125.50 364.06L126.00 364.11L126.50 364.15L127.00 364.20L127.50 364.24L128.00 364.28L128.50 364.31L129.00 364.34L129.50 364.37L130.00 364.40L130.50 364.42L131.00 364.45L131.50 364.47L132.00 364.49L132.50 364.51L133.00 364.53L133.50 364.55L134.00 364.56L134.50 364.58L135.00 364.59L135.50 364.61L136.00 364.62L136.50 364.63L137.00 364.65L137.50 364.66L138.00 364.67L138.50 364.68L139.00 364.69L139.50 364.69L140.00 364.70L140.50 364.71L141.00 364.72L141.50 364.73L142.00 364.73L142.50 364.74L143.00 364.74L143.50 364.75L144.00 364.76L144.50 364.76L145.00 364.77L145.50 364.77L146.00 364.78L146.50 364.78L147.00 364.78L147.50 364.79L148.00 364.79L148.50 364.80L149.00 364.80L149.50 364.80L150.00 364.81L150.50 364.81L151.00 364.81L151.50 364.81L152.00 364.82L152.50 364.82L153.00 364.82L153.50 364.82L154.00 364.82L154.50 364.82L155.00 364.83L155.50 364.83L156.00 364.83L156.50 364.83L157.00 364.83L157.50 364.83L158.00 364.83L158.50 364.83L159.00 364.83L159.50 364.83L160.00 364.83L160.50 364.83L161.00 364.83L161.50 364.83L162.00 364.83L162.50 364.83L163.00 364.83L163.50 364.82L164.00 364.82L164.50 364.82L165.00 364.82L165.50 364.82L166.00 364.81L166.50 364.81L167.00 364.81L167.50 364.80L168.00 364.80L168.50 364.79L169.00 364.79L169.50 364.78L170.00 364.78L170.50 364.77L171.00 364.77L171.50 364.76L172.00 364.75L172.50 364.74L173.00 364.73L173.50 364.72L174.00 364.71L174.50 364.70L175.00 364.68L175.50 364.67L176.00 364.65L176.50 364.63L177.00 364.61L177.50 364.59L178.00 364.56L178.50 364.53L179.00 364.50L179.50 364.46L180.00 364.41L180.50 364.36L181.00 364.31L181.50 364.24L182.00 364.15L182.50 364.05L183.00 363.91L183.50 363.73L184.00 363.49L184.50 363.17L185.00 362.73L185.50 362.15L186.00 361.40L186.50 360.44L187.00 359.27L187.50 357.89L188.00 356.33L188.50 354.67L189.00 353.04L189.50 351.60L190.00 350.60L190.50 350.24L191.00 350.56L191.50 351.45L192.00 352.74L192.50 354.24L193.00 355.81L193.50 357.31L194.00 358.67L194.50 359.87L195.00 360.87L195.50 361.69L196.00 362.34L196.50 362.85L197.00 363.23L197.50 363.52L198.00 363.74L198.50 363.91L199.00 364.04L199.50 364.14L200.00 364.22L200.50 364.29L201.00 364.35L201.50 364.40L202.00 364.44L202.50 364.48L203.00 364.52L203.50 364.55L204.00 364.57L204.50 364.60L205.00 364.62L205.50 364.64L206.00 364.66L206.50 364.67L207.00 364.69L207.50 364.70L208.00 364.72L208.50 364.73L209.00 364.74L209.50 364.75L210.00 364.76L210.50 364.77L211.00 364.77L211.50 364.78L212.00 364.79L212.50 364.79L213.00 364.80L213.50 364.81L214.00 364.81L214.50 364.82L215.00 364.82L215.50 364.82L216.00 364.83L216.50 364.83L217.00 364.84L217.50 364.84L218.00 364.84L218.50 364.85L219.00 364.85L219.50 364.85L220.00 364.85L220.50 364.86L221.00 364.86L221.50 364.86L222.00 364.86L222.50 364.86L223.00 364.87L223.50 364.87L224.00 364.87L224.50 364.87L225.00 364.87L225.50 364.87L226.00 364.87L226.50 364.87L227.00 364.88L227.50 364.88L228.00 364.88L228.50 364.88L229.00 364.88L229.50 364.88L230.00 364.88L230.50 364.88L231.00 364.88L231.50 364.88L232.00 364.88L232.50 364.89L233.00 364.89L233.50 364.89L234.00 364.89L234.50 364.89L235.00 364.89L235.50 364.89L236.00 364.89L236.50 364.89L237.00 364.89L237.50 364.89L238.00 364.89L238.50 364.89L239.00 364.89L239.50 364.89L240.00 364.89L240.50 364.89L241.00 364.89L241.50 364.89L242.00 364.89L242.50 364.89L243.00 364.89L243.50 364.89L244.00 364.89L244.50 364.89L245.00 364.89L245.50 364.89L246.00 364.89L246.50 364.89L247.00 364.89L247.50 364.89L248.00 364.89L248.50 364.89L249.00 364.89L249.50 364.89L250.00 364.89L250.50 364.89L251.00 364.89L251.50 364.89L252.00 364.89L252.50 364.89L253.00 364.89L253.50 364.89L254.00 364.89L254.50 364.89L255.00 364.89L255.50 364.89L256.00 364.89L256.50 364.89L257.00 364.89L257.50 364.89L258.00 364.89L258.50 364.89L259.00 364.89L259.50 364.89L260.00 364.89L260.50 364.89L261.00 364.89L261.50 364.89L262.00 364.89L262.50 364.89L263.00 364.89L263.50 364.89L264.00 364.88L264.50 364.88L265.00 364.88L265.50 364.87L266.00 364.87L266.50 364.86L267.00 364.85L267.50 364.84L268.00 364.83L268.50 364.81L269.00 364.79L269.50 364.76L270.00 364.73L270.50 364.70L271.00 364.67L271.50 364.63L272.00 364.59L272.50 364.55L273.00 364.50L273.50 364.46L274.00 364.42L274.50 364.38L275.00 364.35L275.50 364.32L276.00 364.30L276.50 364.29L277.00 364.29L277.50 364.29L278.00 364.30L278.50 364.32L279.00 364.35L279.50 364.38L280.00 364.42L280.50 364.46L281.00 364.50L281.50 364.54L282.00 364.59L282.50 364.63L283.00 364.67L283.50 364.70L284.00 364.73L284.50 364.76L285.00 364.78L285.50 364.81L286.00 364.82L286.50 364.84L287.00 364.85L287.50 364.86L288.00 364.87L288.50 364.87L289.00 364.87L289.50 364.88L290.00 364.88L290.50 364.88L291.00 364.88L291.50 364.88L292.00 364.88L292.50 364.89L293.00 364.89L293.50 364.89L294.00 364.89L294.50 364.89L295.00 364.89L295.50 364.89L296.00 364.89L296.50 364.89L297.00 364.89L297.50 364.89L298.00 364.89L298.50 364.89L299.00 364.89L299.50 364.89L300.00 364.89L300.50 364.89L301.00 364.89L301.50 364.89L302.00 364.89L302.50 364.89L303.00 364.89L303.50 364.89L304.00 364.89L304.50 364.89L305.00 364.89L305.50 364.89L306.00 364.89L306.50 364.89L307.00 364.89L307.50 364.89L308.00 364.89L308.50 364.89L309.00 364.89L309.50 364.89L310.00 364.89L310.50 364.89L311.00 364.89L311.50 364.89L312.00 364.89L312.50 364.89L313.00 364.89L313.50 364.89L314.00 364.89L314.50 364.89L315.00 364.89L315.50 364.89L316.00 364.89L316.50 364.89L317.00 364.89L317.50 364.89L318.00 364.89L318.50 364.89L319.00 364.89L319.50 364.89L320.00 364.89L320.50 364.89L321.00 364.89L321.50 364.89L322.00 364.89L322.50 364.89L323.00 364.89L323.50 364.89L324.00 364.89L324.50 364.89L325.00 364.89L325.50 364.89L326.00 364.89L326.50 364.89L327.00 364.89L327.50 364.89L328.00 364.89L328.50 364.89L329.00 364.89L329.50 364.89L330.00 364.89L330.50 364.89L331.00 364.89L331.50 364.89L332.00 364.89L332.50 364.89L333.00 364.89L333.50 364.89L334.00 364.89L334.50 364.89L335.00 364.89L335.50 364.89L336.00 364.89L336.50 364.89L337.00 364.89L337.50 364.89L338.00 364.89L338.50 364.89L339.00 364.89L339.50 364.89L340.00 364.89L340.50 364.89L341.00 364.89L341.50 364.89L342.00 364.89L342.50 364.89L343.00 364.89L343.50 364.89L344.00 364.89L344.50 364.89L345.00 364.89L345.50 364.89L346.00 364.89L346.50 364.89L347.00 364.89L347.50 364.89L348.00 364.89L348.50 364.89L349.00 364.89L349.50 364.89L350.00 364.89L350.50 364.90L351.00 364.90L351.50 364.90L352.00 364.90L352.50 364.90L353.00 364.90L353.50 364.90L354.00 364.90L354.50 364.90L355.00 364.90L355.50 364.90L356.00 364.90L356.50 364.90L357.00 364.90L357.50 364.90L358.00 364.90L358.50 364.90L359.00 364.90L359.50 364.90L360.00 364.90L360.50 364.90L361.00 364.90L361.50 364.90L362.00 364.90L362.50 364.90L363.00 364.90L363.50 364.90L364.00 364.90L364.50 364.90L365.00 364.90L365.50 364.90L366.00 364.90L366.50 364.90L367.00 364.90L367.50 364.90L368.00 364.90L368.50 364.90L369.00 364.90L369.50 364.90L370.00 364.90L370.50 364.90L371.00 364.90L371.50 364.90L372.00 364.90L372.50 364.90L373.00 364.90L373.50 364.90L374.00 364.90L374.50 364.90L375.00 364.90L375.50 364.90L376.00 364.90L376.50 364.90L377.00 364.90L377.50 364.90L378.00 364.90L378.50 364.90L379.00 364.90L379.50 364.90L380.00 364.90L380.50 364.90L381.00 364.90L381.50 364.90L382.00 364.90L382.50 364.90L383.00 364.90L383.50 364.90L384.00 364.90L384.50 364.90L385.00 364.90L385.50 364.90L386.00 364.90L386.50 364.90L387.00 364.90L387.50 364.90L388.00 364.90L388.50 364.90L389.00 364.90L389.50 364.90L390.00 364.90L390.50 364.90L391.00 364.90L391.50 364.90L392.00 364.90L392.50 364.90L393.00 364.90L393.50 364.91L394.00 364.91L394.50 364.91L395.00 364.91L395.50 364.91L396.00 364.91L396.50 364.91L397.00 364.91L397.50 364.91L398.00 364.91L398.50 364.91L399.00 364.91L399.50 364.91L400.00 364.91L400.50 364.91L401.00 364.91L401.50 364.91L402.00 364.91L402.50 364.91L403.00 364.91L403.50 364.91L404.00 364.91L404.50 364.91L405.00 364.91L405.50 364.91L406.00 364.91L406.50 364.91L407.00 364.91L407.50 364.91L408.00 364.91L408.50 364.91L409.00 364.91L409.50 364.91L410.00 364.91L410.50 364.91L411.00 364.91L411.50 364.91L412.00 364.91L412.50 364.91L413.00 364.91L413.50 364.91L414.00 364.91L414.50 364.91L415.00 364.91L415.50 364.91L416.00 364.91L416.50 364.91L417.00 364.91L417.50 364.91L418.00 364.91L418.50 364.91L419.00 364.91L419.50 364.91L420.00 364.91L420.50 364.91L421.00 364.91L421.50 364.91L422.00 364.91L422.50 364.92L423.00 364.92L423.50 364.92L424.00 364.92L424.50 364.92L425.00 364.92L425.50 364.92L426.00 364.92L426.50 364.92L427.00 364.92L427.50 364.92L428.00 364.92L428.50 364.92L429.00 364.92L429.50 364.92L430.00 364.92L430.50 364.92L431.00 364.92L431.50 364.92L432.00 364.92L432.50 364.92L433.00 364.92L433.50 364.92L434.00 364.92L434.50 364.92L435.00 364.92L435.50 364.92L436.00 364.92L436.50 364.92L437.00 364.92L437.50 364.92L438.00 364.92L438.50 364.92L439.00 364.92L439.50 364.92L440.00 364.92L440.50 364.92L441.00 364.92L441.50 364.92L442.00 364.92L442.50 364.92L443.00 364.92L443.50 364.92L444.00 364.93L444.50 364.93L445.00 364.93L445.50 364.93L446.00 364.93L446.50 364.93L447.00 364.93L447.50 364.93L448.00 364.93L448.50 364.93L449.00 364.93L449.50 364.93L450.00 364.93L450.50 364.93L451.00 364.93L451.50 364.93L452.00 364.93L452.50 364.93L453.00 364.93L453.50 364.93L454.00 364.93L454.50 364.93L455.00 364.93L455.50 364.93L456.00 364.93L456.50 364.93L457.00 364.93L457.50 364.93L458.00 364.93L458.50 364.93L459.00 364.93L459.50 364.93L460.00 364.93L460.50 364.93L461.00 364.93L461.50 364.93L462.00 364.94L462.50 364.94L463.00 364.94L463.50 364.94L464.00 364.94L464.50 364.94L465.00 364.94L465.50 364.94L466.00 364.94L466.50 364.94L467.00 364.94L467.50 364.94L468.00 364.94L468.50 364.94L469.00 364.94L469.50 364.94L470.00 364.94L470.50 364.94L471.00 364.94L471.50 364.94L472.00 364.94L472.50 364.94L473.00 364.94L473.50 364.94L474.00 364.94L474.50 364.94L475.00 364.94L475.50 364.94L476.00 364.94L476.50 364.94L477.00 364.94L477.50 364.95L478.00 364.95L478.50 364.95L479.00 364.95L479.50 364.95L480.00 364.95L480.50 364.95L481.00 364.95L481.50 364.95L482.00 364.95L482.50 364.95L483.00 364.95L483.50 364.95L484.00 364.95L484.50 364.95L485.00 364.95L485.50 364.95L486.00 364.95L486.50 364.95L487.00 364.95L487.50 364.95L488.00 364.95L488.50 364.95L489.00 364.95L489.50 364.95L490.00 364.95L490.50 364.95L491.00 364.96L491.50 364.96L492.00 364.96L492.50 364.96L493.00 364.96L493.50 364.96L494.00 364.96L494.50 364.96L495.00 364.96L495.50 364.96L496.00 364.96L496.50 364.96L497.00 364.96L497.50 364.96L498.00 364.96L498.50 364.96L499.00 364.96L499.50 364.96L500.00 364.96L500.50 364.96L501.00 364.96L501.50 364.96L502.00 364.96L502.50 364.96L503.00 364.96L503.50 364.97L504.00 364.97L504.50 364.97L505.00 364.97L505.50 364.97L506.00 364.97L506.50 364.97L507.00 364.97L507.50 364.97L508.00 364.97L508.50 364.97L509.00 364.97L509.50 364.97L510.00 364.97L510.50 364.97L511.00 364.97L511.50 364.97L512.00 364.97L512.50 364.97L513.00 364.97L513.50 364.97L514.00 364.97L514.50 364.98L515.00 364.98L515.50 364.98L516.00 364.98L516.50 364.98L517.00 364.98L517.50 364.98L518.00 364.98L518.50 364.98L519.00 364.98L519.50 364.98L520.00 364.98L520.50 364.98L521.00 364.98L521.50 364.98L522.00 364.98L522.50 364.98L523.00 364.98L523.50 364.98L524.00 364.98L524.50 364.98L525.00 364.99L525.50 364.99L526.00 364.99L526.50 364.99L527.00 364.99L527.50 364.99L528.00 364.99L528.50 364.99L529.00 364.99L529.50 364.99L530.00 364.99L530.50 364.99L531.00 364.99L531.50 364.99L532.00 364.99L532.50 364.99L533.00 364.99L533.50 364.99L534.00 364.99L534.50 365.00L535.00 365.00L535.50 365.00L536.00 365.00L536.50 365.00L537.00 365.00L537.50 365.00" fill="none" stroke="#4cf04c" stroke-width="1.45" stroke-linejoin="round"/>
<path d="M65.50 420.93L66.00 420.93L66.50 420.94L67.00 420.94L67.50 420.94L68.00 420.93L68.50 420.93L69.00 420.92L69.50 420.91L70.00 420.89L70.50 420.88L71.00 420.86L71.50 420.83L72.00 420.80L72.50 420.76L73.00 420.72L73.50 420.67L74.00 420.61L74.50 420.55L75.00 420.48L75.50 420.39L76.00 420.30L76.50 420.20L77.00 420.08L77.50 419.95L78.00 419.81L78.50 419.65L79.00 419.48L79.50 419.29L80.00 419.08L80.50 418.85L81.00 418.61L81.50 418.34L82.00 418.05L82.50 417.73L83.00 417.40L83.50 417.03L84.00 416.64L84.50 416.23L85.00 415.78L85.50 415.31L86.00 414.80L86.50 414.27L87.00 413.70L87.50 413.10L88.00 412.46L88.50 411.79L89.00 411.08L89.50 410.34L90.00 409.56L90.50 408.74L91.00 407.89L91.50 406.99L92.00 406.06L92.50 405.09L93.00 404.08L93.50 403.03L94.00 401.95L94.50 400.83L95.00 399.68L95.50 398.51L96.00 397.31L96.50 396.08L97.00 394.84L97.50 393.59L98.00 392.34L98.50 391.09L99.00 389.85L99.50 388.63L100.00 387.44L100.50 386.29L101.00 385.19L101.50 384.14L102.00 383.17L102.50 382.27L103.00 381.46L103.50 380.76L104.00 380.15L104.50 379.65L105.00 379.27L105.50 379.01L106.00 378.88L106.50 378.87L107.00 379.00L107.50 379.27L108.00 379.65L108.50 380.11L109.00 380.67L109.50 381.31L110.00 382.03L110.50 382.82L111.00 383.68L111.50 384.61L112.00 385.59L112.50 386.63L113.00 387.72L113.50 388.85L114.00 390.01L114.50 391.21L115.00 392.42L115.50 393.65L116.00 394.89L116.50 396.13L117.00 397.36L117.50 398.59L118.00 399.81L118.50 401.01L119.00 402.18L119.50 403.33L120.00 404.45L120.50 405.53L121.00 406.58L121.50 407.59L122.00 408.55L122.50 409.48L123.00 410.36L123.50 411.20L124.00 411.99L124.50 412.74L125.00 413.44L125.50 414.10L126.00 414.72L126.50 415.30L127.00 415.83L127.50 416.33L128.00 416.78L128.50 417.21L129.00 417.59L129.50 417.95L130.00 418.27L130.50 418.56L131.00 418.83L131.50 419.07L132.00 419.28L132.50 419.48L133.00 419.65L133.50 419.80L134.00 419.94L134.50 420.06L135.00 420.16L135.50 420.25L136.00 420.33L136.50 420.40L137.00 420.46L137.50 420.50L138.00 420.54L138.50 420.58L139.00 420.60L139.50 420.62L140.00 420.63L140.50 420.64L141.00 420.64L141.50 420.64L142.00 420.63L142.50 420.63L143.00 420.61L143.50 420.60L144.00 420.58L144.50 420.56L145.00 420.53L145.50 420.51L146.00 420.48L146.50 420.45L147.00 420.42L147.50 420.39L148.00 420.35L148.50 420.31L149.00 420.28L149.50 420.23L150.00 420.19L150.50 420.15L151.00 420.10L151.50 420.06L152.00 420.01L152.50 419.96L153.00 419.91L153.50 419.85L154.00 419.80L154.50 419.74L155.00 419.68L155.50 419.62L156.00 419.56L156.50 419.50L157.00 419.43L157.50 419.36L158.00 419.29L158.50 419.22L159.00 419.15L159.50 419.07L160.00 418.99L160.50 418.91L161.00 418.83L161.50 418.74L162.00 418.66L162.50 418.57L163.00 418.47L163.50 418.38L164.00 418.28L164.50 418.19L165.00 418.09L165.50 417.98L166.00 417.88L166.50 417.77L167.00 417.66L167.50 417.55L168.00 417.44L168.50 417.32L169.00 417.21L169.50 417.09L170.00 416.97L170.50 416.85L171.00 416.73L171.50 416.61L172.00 416.48L172.50 416.36L173.00 416.24L173.50 416.12L174.00 416.00L174.50 415.88L175.00 415.76L175.50 415.65L176.00 415.54L176.50 415.43L177.00 415.33L177.50 415.23L178.00 415.13L178.50 415.04L179.00 414.96L179.50 414.88L180.00 414.81L180.50 414.75L181.00 414.69L181.50 414.64L182.00 414.60L182.50 414.57L183.00 414.54L183.50 414.53L184.00 414.52L184.50 414.52L185.00 414.54L185.50 414.56L186.00 414.59L186.50 414.64L187.00 414.69L187.50 414.75L188.00 414.82L188.50 414.90L189.00 414.98L189.50 415.08L190.00 415.18L190.50 415.29L191.00 415.40L191.50 415.52L192.00 415.64L192.50 415.77L193.00 415.90L193.50 416.04L194.00 416.18L194.50 416.32L195.00 416.47L195.50 416.61L196.00 416.76L196.50 416.90L197.00 417.05L197.50 417.20L198.00 417.34L198.50 417.48L199.00 417.63L199.50 417.77L200.00 417.90L200.50 418.04L201.00 418.17L201.50 418.30L202.00 418.42L202.50 418.54L203.00 418.66L203.50 418.77L204.00 418.88L204.50 418.98L205.00 419.08L205.50 419.17L206.00 419.26L206.50 419.35L207.00 419.43L207.50 419.51L208.00 419.58L208.50 419.65L209.00 419.71L209.50 419.77L210.00 419.83L210.50 419.88L211.00 419.93L211.50 419.97L212.00 420.01L212.50 420.05L213.00 420.09L213.50 420.12L214.00 420.15L214.50 420.17L215.00 420.19L215.50 420.21L216.00 420.23L216.50 420.25L217.00 420.26L217.50 420.27L218.00 420.28L218.50 420.29L219.00 420.30L219.50 420.30L220.00 420.31L220.50 420.31L221.00 420.31L221.50 420.31L222.00 420.31L222.50 420.31L223.00 420.31L223.50 420.30L224.00 420.30L224.50 420.30L225.00 420.29L225.50 420.29L226.00 420.28L226.50 420.28L227.00 420.27L227.50 420.27L228.00 420.26L228.50 420.25L229.00 420.25L229.50 420.24L230.00 420.23L230.50 420.23L231.00 420.22L231.50 420.21L232.00 420.20L232.50 420.20L233.00 420.19L233.50 420.18L234.00 420.17L234.50 420.16L235.00 420.15L235.50 420.14L236.00 420.13L236.50 420.12L237.00 420.11L237.50 420.11L238.00 420.10L238.50 420.09L239.00 420.08L239.50 420.07L240.00 420.06L240.50 420.05L241.00 420.04L241.50 420.03L242.00 420.02L242.50 420.01L243.00 420.00L243.50 419.98L244.00 419.97L244.50 419.96L245.00 419.95L245.50 419.94L246.00 419.93L246.50 419.92L247.00 419.90L247.50 419.89L248.00 419.88L248.50 419.86L249.00 419.85L249.50 419.83L250.00 419.81L250.50 419.79L251.00 419.77L251.50 419.75L252.00 419.73L252.50 419.70L253.00 419.67L253.50 419.64L254.00 419.61L254.50 419.57L255.00 419.52L255.50 419.48L256.00 419.43L256.50 419.37L257.00 419.31L257.50 419.24L258.00 419.16L258.50 419.08L259.00 418.99L259.50 418.89L260.00 418.78L260.50 418.66L261.00 418.53L261.50 418.39L262.00 418.24L262.50 418.07L263.00 417.89L263.50 417.70L264.00 417.50L264.50 417.28L265.00 417.05L265.50 416.80L266.00 416.54L266.50 416.26L267.00 415.97L267.50 415.67L268.00 415.35L268.50 415.01L269.00 414.67L269.50 414.31L270.00 413.94L270.50 413.56L271.00 413.16L271.50 412.76L272.00 412.36L272.50 411.95L273.00 411.53L273.50 411.11L274.00 410.69L274.50 410.28L275.00 409.86L275.50 409.46L276.00 409.06L276.50 408.67L277.00 408.29L277.50 407.93L278.00 407.59L278.50 407.26L279.00 406.96L279.50 406.67L280.00 406.42L280.50 406.18L281.00 405.98L281.50 405.81L282.00 405.66L282.50 405.55L283.00 405.47L283.50 405.42L284.00 405.41L284.50 405.41L285.00 405.42L285.50 405.44L286.00 405.45L286.50 405.47L287.00 405.49L287.50 405.51L288.00 405.53L288.50 405.56L289.00 405.59L289.50 405.62L290.00 405.66L290.50 405.69L291.00 405.73L291.50 405.78L292.00 405.82L292.50 405.87L293.00 405.91L293.50 405.96L294.00 406.02L294.50 406.07L295.00 406.13L295.50 406.19L296.00 406.25L296.50 406.31L297.00 406.37L297.50 406.44L298.00 406.51L298.50 406.58L299.00 406.65L299.50 406.72L300.00 406.80L300.50 406.87L301.00 406.95L301.50 407.03L302.00 407.11L302.50 407.19L303.00 407.27L303.50 407.36L304.00 407.44L304.50 407.53L305.00 407.62L305.50 407.70L306.00 407.79L306.50 407.88L307.00 407.97L307.50 408.06L308.00 408.16L308.50 408.25L309.00 408.34L309.50 408.44L310.00 408.53L310.50 408.63L311.00 408.72L311.50 408.82L312.00 408.91L312.50 409.01L313.00 409.11L313.50 409.20L314.00 409.30L314.50 409.40L315.00 409.50L315.50 409.59L316.00 409.69L316.50 409.79L317.00 409.89L317.50 409.98L318.00 410.08L318.50 410.18L319.00 410.28L319.50 410.37L320.00 410.47L320.50 410.57L321.00 410.66L321.50 410.76L322.00 410.85L322.50 410.95L323.00 411.05L323.50 411.14L324.00 411.24L324.50 411.33L325.00 411.42L325.50 411.52L326.00 411.61L326.50 411.70L327.00 411.79L327.50 411.89L328.00 411.98L328.50 412.07L329.00 412.16L329.50 412.25L330.00 412.34L330.50 412.42L331.00 412.51L331.50 412.60L332.00 412.69L332.50 412.77L333.00 412.86L333.50 412.94L334.00 413.03L334.50 413.11L335.00 413.20L335.50 413.28L336.00 413.36L336.50 413.44L337.00 413.52L337.50 413.60L338.00 413.68L338.50 413.76L339.00 413.84L339.50 413.92L340.00 414.00L340.50 414.07L341.00 414.15L341.50 414.22L342.00 414.30L342.50 414.37L343.00 414.45L343.50 414.52L344.00 414.59L344.50 414.66L345.00 414.74L345.50 414.81L346.00 414.88L346.50 414.95L347.00 415.02L347.50 415.08L348.00 415.15L348.50 415.22L349.00 415.29L349.50 415.35L350.00 415.42L350.50 415.48L351.00 415.55L351.50 415.61L352.00 415.67L352.50 415.74L353.00 415.80L353.50 415.86L354.00 415.92L354.50 415.98L355.00 416.04L355.50 416.10L356.00 416.16L356.50 416.22L357.00 416.27L357.50 416.33L358.00 416.39L358.50 416.44L359.00 416.50L359.50 416.55L360.00 416.61L360.50 416.66L361.00 416.72L361.50 416.77L362.00 416.82L362.50 416.88L363.00 416.93L363.50 416.98L364.00 417.03L364.50 417.08L365.00 417.13L365.50 417.18L366.00 417.23L366.50 417.28L367.00 417.32L367.50 417.37L368.00 417.42L368.50 417.46L369.00 417.51L369.50 417.56L370.00 417.60L370.50 417.65L371.00 417.69L371.50 417.74L372.00 417.78L372.50 417.82L373.00 417.86L373.50 417.91L374.00 417.95L374.50 417.99L375.00 418.03L375.50 418.07L376.00 418.11L376.50 418.15L377.00 418.19L377.50 418.23L378.00 418.27L378.50 418.31L379.00 418.35L379.50 418.38L380.00 418.42L380.50 418.46L381.00 418.49L381.50 418.53L382.00 418.57L382.50 418.60L383.00 418.64L383.50 418.67L384.00 418.70L384.50 418.74L385.00 418.77L385.50 418.81L386.00 418.84L386.50 418.87L387.00 418.90L387.50 418.93L388.00 418.97L388.50 419.00L389.00 419.03L389.50 419.06L390.00 419.09L390.50 419.12L391.00 419.15L391.50 419.17L392.00 419.20L392.50 419.23L393.00 419.26L393.50 419.29L394.00 419.31L394.50 419.34L395.00 419.37L395.50 419.39L396.00 419.42L396.50 419.44L397.00 419.47L397.50 419.49L398.00 419.52L398.50 419.54L399.00 419.57L399.50 419.59L400.00 419.61L400.50 419.63L401.00 419.66L401.50 419.68L402.00 419.70L402.50 419.72L403.00 419.74L403.50 419.76L404.00 419.78L404.50 419.80L405.00 419.82L405.50 419.84L406.00 419.86L406.50 419.88L407.00 419.90L407.50 419.91L408.00 419.93L408.50 419.95L409.00 419.96L409.50 419.98L410.00 420.00L410.50 420.01L411.00 420.03L411.50 420.04L412.00 420.06L412.50 420.07L413.00 420.08L413.50 420.10L414.00 420.11L414.50 420.12L415.00 420.13L415.50 420.14L416.00 420.15L416.50 420.16L417.00 420.17L417.50 420.18L418.00 420.19L418.50 420.20L419.00 420.21L419.50 420.22L420.00 420.22L420.50 420.23L421.00 420.23L421.50 420.24L422.00 420.24L422.50 420.25L423.00 420.25L423.50 420.25L424.00 420.26L424.50 420.26L425.00 420.26L425.50 420.26L426.00 420.26L426.50 420.26L427.00 420.25L427.50 420.25L428.00 420.25L428.50 420.24L429.00 420.24L429.50 420.23L430.00 420.23L430.50 420.22L431.00 420.21L431.50 420.20L432.00 420.19L432.50 420.18L433.00 420.16L433.50 420.15L434.00 420.13L434.50 420.11L435.00 420.10L435.50 420.08L436.00 420.05L436.50 420.03L437.00 420.01L437.50 419.98L438.00 419.95L438.50 419.92L439.00 419.89L439.50 419.85L440.00 419.82L440.50 419.78L441.00 419.73L441.50 419.69L442.00 419.64L442.50 419.59L443.00 419.53L443.50 419.47L444.00 419.40L444.50 419.33L445.00 419.26L445.50 419.18L446.00 419.09L446.50 419.00L447.00 418.90L447.50 418.79L448.00 418.68L448.50 418.55L449.00 418.41L449.50 418.27L450.00 418.11L450.50 417.94L451.00 417.75L451.50 417.55L452.00 417.34L452.50 417.10L453.00 416.85L453.50 416.57L454.00 416.28L454.50 415.96L455.00 415.62L455.50 415.25L456.00 414.86L456.50 414.43L457.00 413.98L457.50 413.50L458.00 413.00L458.50 412.46L459.00 411.90L459.50 411.32L460.00 410.73L460.50 410.13L461.00 409.53L461.50 408.94L462.00 408.37L462.50 407.85L463.00 407.38L463.50 406.99L464.00 406.68L464.50 406.48L465.00 406.38L465.50 406.38L466.00 406.41L466.50 406.48L467.00 406.59L467.50 406.72L468.00 406.88L468.50 407.07L469.00 407.28L469.50 407.51L470.00 407.77L470.50 408.04L471.00 408.33L471.50 408.63L472.00 408.94L472.50 409.26L473.00 409.59L473.50 409.92L474.00 410.25L474.50 410.58L475.00 410.91L475.50 411.24L476.00 411.57L476.50 411.89L477.00 412.21L477.50 412.52L478.00 412.83L478.50 413.12L479.00 413.41L479.50 413.70L480.00 413.97L480.50 414.24L481.00 414.50L481.50 414.75L482.00 414.99L482.50 415.22L483.00 415.44L483.50 415.66L484.00 415.86L484.50 416.06L485.00 416.25L485.50 416.44L486.00 416.61L486.50 416.78L487.00 416.94L487.50 417.09L488.00 417.24L488.50 417.38L489.00 417.51L489.50 417.64L490.00 417.76L490.50 417.87L491.00 417.98L491.50 418.09L492.00 418.18L492.50 418.28L493.00 418.37L493.50 418.45L494.00 418.53L494.50 418.60L495.00 418.68L495.50 418.74L496.00 418.81L496.50 418.87L497.00 418.93L497.50 418.98L498.00 419.03L498.50 419.08L499.00 419.13L499.50 419.17L500.00 419.21L500.50 419.25L501.00 419.29L501.50 419.33L502.00 419.36L502.50 419.39L503.00 419.42L503.50 419.45L504.00 419.48L504.50 419.50L505.00 419.52L505.50 419.55L506.00 419.57L506.50 419.59L507.00 419.61L507.50 419.63L508.00 419.64L508.50 419.66L509.00 419.67L509.50 419.69L510.00 419.70L510.50 419.71L511.00 419.73L511.50 419.74L512.00 419.75L512.50 419.76L513.00 419.77L513.50 419.78L514.00 419.78L514.50 419.79L515.00 419.80L515.50 419.80L516.00 419.81L516.50 419.81L517.00 419.82L517.50 419.82L518.00 419.83L518.50 419.83L519.00 419.83L519.50 419.84L520.00 419.84L520.50 419.84L521.00 419.84L521.50 419.84L522.00 419.84L522.50 419.84L523.00 419.84L523.50 419.84L524.00 419.84L524.50 419.84L525.00 419.84L525.50 419.84L526.00 419.84L526.50 419.83L527.00 419.83L527.50 419.83L528.00 419.83L528.50 419.82L529.00 419.82L529.50 419.81L530.00 419.81L530.50 419.81L531.00 419.80L531.50 419.80L532.00 419.79L532.50 419.79L533.00 419.78L533.50 419.78L534.00 419.77L534.50 419.76L535.00 419.76L535.50 419.75L536.00 419.75L536.50 419.74L537.00 419.73L537.50 419.73" fill="none" stroke="#1fba52" stroke-width="1.4" stroke-linejoin="round"/>
<path d="M65.50 181.40L66.00 180.73L66.50 180.06L67.00 179.39L67.50 178.73L68.00 178.08L68.50 177.43L69.00 176.78L69.50 176.14L70.00 175.50L70.50 174.87L71.00 174.26L71.50 173.65L72.00 173.05L72.50 172.45L73.00 171.86L73.50 171.27L74.00 170.69L74.50 170.09L75.00 169.50L75.50 168.89L76.00 168.28L76.50 167.65L77.00 167.01L77.50 166.32L78.00 165.61L78.50 164.90L79.00 164.19L79.50 163.51L80.00 162.87L80.50 162.30L81.00 161.77L81.50 161.25L82.00 160.76L82.50 160.29L83.00 159.85L83.50 159.44L84.00 159.07L84.50 158.74L85.00 158.42L85.50 158.13L86.00 157.85L86.50 157.58L87.00 157.33L87.50 157.09L88.00 156.87L88.50 156.66L89.00 156.47L89.50 156.30L90.00 156.13L90.50 155.95L91.00 155.79L91.50 155.65L92.00 155.55L92.50 155.50L93.00 155.52L93.50 155.61L94.00 155.74L94.50 155.92L95.00 156.14L95.50 156.38L96.00 156.63L96.50 156.89L97.00 157.15L97.50 157.41L98.00 157.72L98.50 158.06L99.00 158.43L99.50 158.82L100.00 159.23L100.50 159.64L101.00 160.05L101.50 160.46L102.00 160.85L102.50 161.22L103.00 161.58L103.50 161.94L104.00 162.30L104.50 162.65L105.00 163.01L105.50 163.38L106.00 163.75L106.50 164.14L107.00 164.55L107.50 164.97L108.00 165.44L108.50 165.93L109.00 166.45L109.50 166.98L110.00 167.53L110.50 168.08L111.00 168.63L111.50 169.17L112.00 169.70L112.50 170.20L113.00 170.68L113.50 171.12L114.00 171.52L114.50 171.91L115.00 172.28L115.50 172.64L116.00 172.98L116.50 173.32L117.00 173.65L117.50 173.97L118.00 174.29L118.50 174.61L119.00 174.94L119.50 175.27L120.00 175.60L120.50 175.95L121.00 176.31L121.50 176.68L122.00 177.05L122.50 177.42L123.00 177.78L123.50 178.11L124.00 178.43L124.50 178.71L125.00 178.96L125.50 179.17L126.00 179.38L126.50 179.58L127.00 179.78L127.50 179.97L128.00 180.14L128.50 180.31L129.00 180.46L129.50 180.60L130.00 180.73L130.50 180.84L131.00 180.93L131.50 181.00L132.00 181.06L132.50 181.12L133.00 181.18L133.50 181.23L134.00 181.28L134.50 181.32L135.00 181.36L135.50 181.38L136.00 181.40L136.50 181.40L137.00 181.39L137.50 181.36L138.00 181.32L138.50 181.27L139.00 181.20L139.50 181.12L140.00 181.04L140.50 180.95L141.00 180.85L141.50 180.75L142.00 180.65L142.50 180.54L143.00 180.43L143.50 180.30L144.00 180.15L144.50 179.98L145.00 179.79L145.50 179.59L146.00 179.37L146.50 179.15L147.00 178.92L147.50 178.68L148.00 178.43L148.50 178.19L149.00 177.95L149.50 177.70L150.00 177.44L150.50 177.16L151.00 176.87L151.50 176.57L152.00 176.27L152.50 175.95L153.00 175.64L153.50 175.32L154.00 175.01L154.50 174.70L155.00 174.40L155.50 174.10L156.00 173.81L156.50 173.53L157.00 173.26L157.50 172.99L158.00 172.71L158.50 172.44L159.00 172.17L159.50 171.89L160.00 171.61L160.50 171.31L161.00 171.01L161.50 170.70L162.00 170.37L162.50 170.02L163.00 169.65L163.50 169.27L164.00 168.88L164.50 168.48L165.00 168.07L165.50 167.66L166.00 167.25L166.50 166.84L167.00 166.43L167.50 166.04L168.00 165.65L168.50 165.28L169.00 164.91L169.50 164.55L170.00 164.20L170.50 163.85L171.00 163.50L171.50 163.15L172.00 162.80L172.50 162.45L173.00 162.10L173.50 161.74L174.00 161.37L174.50 161.00L175.00 160.62L175.50 160.22L176.00 159.81L176.50 159.40L177.00 158.98L177.50 158.56L178.00 158.14L178.50 157.73L179.00 157.32L179.50 156.93L180.00 156.54L180.50 156.18L181.00 155.83L181.50 155.50L182.00 155.16L182.50 154.84L183.00 154.52L183.50 154.21L184.00 153.91L184.50 153.61L185.00 153.32L185.50 153.04L186.00 152.77L186.50 152.50L187.00 152.25L187.50 152.00L188.00 151.76L188.50 151.52L189.00 151.29L189.50 151.06L190.00 150.83L190.50 150.61L191.00 150.40L191.50 150.21L192.00 150.02L192.50 149.84L193.00 149.68L193.50 149.53L194.00 149.39L194.50 149.25L195.00 149.10L195.50 148.96L196.00 148.82L196.50 148.68L197.00 148.55L197.50 148.43L198.00 148.32L198.50 148.21L199.00 148.12L199.50 148.04L200.00 147.98L200.50 147.93L201.00 147.91L201.50 147.90L202.00 147.91L202.50 147.93L203.00 147.97L203.50 148.02L204.00 148.08L204.50 148.14L205.00 148.22L205.50 148.30L206.00 148.38L206.50 148.47L207.00 148.57L207.50 148.66L208.00 148.76L208.50 148.89L209.00 149.04L209.50 149.21L210.00 149.40L210.50 149.60L211.00 149.82L211.50 150.04L212.00 150.27L212.50 150.50L213.00 150.72L213.50 150.94L214.00 151.16L214.50 151.37L215.00 151.57L215.50 151.78L216.00 152.00L216.50 152.21L217.00 152.42L217.50 152.64L218.00 152.86L218.50 153.08L219.00 153.31L219.50 153.54L220.00 153.77L220.50 154.00L221.00 154.24L221.50 154.48L222.00 154.72L222.50 154.97L223.00 155.22L223.50 155.48L224.00 155.74L224.50 155.99L225.00 156.25L225.50 156.52L226.00 156.78L226.50 157.04L227.00 157.31L227.50 157.57L228.00 157.83L228.50 158.10L229.00 158.36L229.50 158.63L230.00 158.90L230.50 159.17L231.00 159.44L231.50 159.72L232.00 160.00L232.50 160.29L233.00 160.58L233.50 160.88L234.00 161.19L234.50 161.51L235.00 161.84L235.50 162.17L236.00 162.51L236.50 162.85L237.00 163.19L237.50 163.53L238.00 163.86L238.50 164.18L239.00 164.50L239.50 164.80L240.00 165.09L240.50 165.38L241.00 165.67L241.50 165.95L242.00 166.22L242.50 166.49L243.00 166.76L243.50 167.03L244.00 167.29L244.50 167.56L245.00 167.82L245.50 168.09L246.00 168.35L246.50 168.62L247.00 168.88L247.50 169.15L248.00 169.41L248.50 169.68L249.00 169.94L249.50 170.20L250.00 170.46L250.50 170.71L251.00 170.96L251.50 171.21L252.00 171.46L252.50 171.70L253.00 171.93L253.50 172.17L254.00 172.40L254.50 172.63L255.00 172.86L255.50 173.08L256.00 173.31L256.50 173.52L257.00 173.74L257.50 173.95L258.00 174.16L258.50 174.36L259.00 174.56L259.50 174.75L260.00 174.94L260.50 175.13L261.00 175.31L261.50 175.50L262.00 175.67L262.50 175.85L263.00 176.03L263.50 176.20L264.00 176.37L264.50 176.55L265.00 176.72L265.50 176.89L266.00 177.06L266.50 177.23L267.00 177.41L267.50 177.58L268.00 177.76L268.50 177.93L269.00 178.10L269.50 178.27L270.00 178.44L270.50 178.61L271.00 178.77L271.50 178.93L272.00 179.09L272.50 179.24L273.00 179.39L273.50 179.53L274.00 179.68L274.50 179.82L275.00 179.96L275.50 180.09L276.00 180.23L276.50 180.36L277.00 180.49L277.50 180.62L278.00 180.74L278.50 180.86L279.00 180.98L279.50 181.09L280.00 181.20L280.50 181.32L281.00 181.43L281.50 181.53L282.00 181.64L282.50 181.74L283.00 181.84L283.50 181.94L284.00 182.03L284.50 182.13L285.00 182.21L285.50 182.30L286.00 182.38L286.50 182.47L287.00 182.56L287.50 182.64L288.00 182.72L288.50 182.80L289.00 182.88L289.50 182.95L290.00 183.02L290.50 183.08L291.00 183.13L291.50 183.18L292.00 183.21L292.50 183.25L293.00 183.28L293.50 183.31L294.00 183.34L294.50 183.37L295.00 183.39L295.50 183.41L296.00 183.43L296.50 183.45L297.00 183.47L297.50 183.48L298.00 183.50L298.50 183.51L299.00 183.51L299.50 183.52L300.00 183.53L300.50 183.54L301.00 183.55L301.50 183.56L302.00 183.56L302.50 183.57L303.00 183.58L303.50 183.59L304.00 183.59L304.50 183.60L305.00 183.60L305.50 183.61L306.00 183.62L306.50 183.62L307.00 183.63L307.50 183.63L308.00 183.64L308.50 183.64L309.00 183.65L309.50 183.65L310.00 183.65L310.50 183.66L311.00 183.66L311.50 183.67L312.00 183.67L312.50 183.67L313.00 183.68L313.50 183.68L314.00 183.68L314.50 183.68L315.00 183.69L315.50 183.69L316.00 183.69L316.50 183.70L317.00 183.70L317.50 183.70L318.00 183.70L318.50 183.71L319.00 183.71L319.50 183.71L320.00 183.71L320.50 183.71L321.00 183.72L321.50 183.72L322.00 183.72L322.50 183.72L323.00 183.72L323.50 183.73L324.00 183.73L324.50 183.73L325.00 183.73L325.50 183.73L326.00 183.73L326.50 183.74L327.00 183.74L327.50 183.74L328.00 183.74L328.50 183.74L329.00 183.74L329.50 183.75L330.00 183.75L330.50 183.75L331.00 183.75L331.50 183.75L332.00 183.75L332.50 183.75L333.00 183.75L333.50 183.76L334.00 183.76L334.50 183.76L335.00 183.76L335.50 183.76L336.00 183.76L336.50 183.76L337.00 183.76L337.50 183.77L338.00 183.77L338.50 183.77L339.00 183.77L339.50 183.77L340.00 183.77L340.50 183.77L341.00 183.77L341.50 183.78L342.00 183.78L342.50 183.78L343.00 183.78L343.50 183.78L344.00 183.78L344.50 183.78L345.00 183.78L345.50 183.79L346.00 183.79L346.50 183.79L347.00 183.79L347.50 183.79L348.00 183.79L348.50 183.80L349.00 183.80L349.50 183.80L350.00 183.80L350.50 183.80L351.00 183.80L351.50 183.81L352.00 183.81L352.50 183.81L353.00 183.81L353.50 183.81L354.00 183.81L354.50 183.82L355.00 183.82L355.50 183.82L356.00 183.82L356.50 183.82L357.00 183.82L357.50 183.83L358.00 183.83L358.50 183.83L359.00 183.83L359.50 183.83L360.00 183.83L360.50 183.84L361.00 183.84L361.50 183.84L362.00 183.84L362.50 183.84L363.00 183.84L363.50 183.85L364.00 183.85L364.50 183.85L365.00 183.85L365.50 183.85L366.00 183.86L366.50 183.86L367.00 183.86L367.50 183.86L368.00 183.86L368.50 183.86L369.00 183.87L369.50 183.87L370.00 183.87L370.50 183.87L371.00 183.87L371.50 183.88L372.00 183.88L372.50 183.88L373.00 183.88L373.50 183.88L374.00 183.88L374.50 183.89L375.00 183.89L375.50 183.89L376.00 183.89L376.50 183.89L377.00 183.90L377.50 183.90L378.00 183.90L378.50 183.90L379.00 183.90L379.50 183.91L380.00 183.91L380.50 183.91L381.00 183.91L381.50 183.91L382.00 183.92L382.50 183.92L383.00 183.92L383.50 183.92L384.00 183.92L384.50 183.93L385.00 183.93L385.50 183.93L386.00 183.93L386.50 183.94L387.00 183.94L387.50 183.94L388.00 183.94L388.50 183.94L389.00 183.95L389.50 183.95L390.00 183.95L390.50 183.95L391.00 183.96L391.50 183.96L392.00 183.96L392.50 183.96L393.00 183.96L393.50 183.97L394.00 183.97L394.50 183.97L395.00 183.97L395.50 183.98L396.00 183.98L396.50 183.98L397.00 183.98L397.50 183.99L398.00 183.99L398.50 183.99L399.00 183.99L399.50 184.00L400.00 184.00L400.50 184.00L401.00 184.01L401.50 184.01L402.00 184.01L402.50 184.01L403.00 184.02L403.50 184.02L404.00 184.03L404.50 184.03L405.00 184.03L405.50 184.04L406.00 184.04L406.50 184.05L407.00 184.05L407.50 184.05L408.00 184.06L408.50 184.06L409.00 184.07L409.50 184.07L410.00 184.08L410.50 184.08L411.00 184.09L411.50 184.09L412.00 184.10L412.50 184.10L413.00 184.11L413.50 184.11L414.00 184.12L414.50 184.12L415.00 184.13L415.50 184.13L416.00 184.14L416.50 184.14L417.00 184.15L417.50 184.15L418.00 184.16L418.50 184.16L419.00 184.17L419.50 184.17L420.00 184.18L420.50 184.18L421.00 184.19L421.50 184.19L422.00 184.20L422.50 184.20L423.00 184.21L423.50 184.21L424.00 184.21L424.50 184.22L425.00 184.22L425.50 184.23L426.00 184.23L426.50 184.24L427.00 184.24L427.50 184.24L428.00 184.25L428.50 184.25L429.00 184.26L429.50 184.26L430.00 184.26L430.50 184.27L431.00 184.27L431.50 184.27L432.00 184.28L432.50 184.28L433.00 184.28L433.50 184.28L434.00 184.29L434.50 184.29L435.00 184.29L435.50 184.29L436.00 184.29L436.50 184.29L437.00 184.30L437.50 184.30L438.00 184.30L438.50 184.30L439.00 184.30L439.50 184.30L440.00 184.30L440.50 184.30L441.00 184.30L441.50 184.30L442.00 184.30L442.50 184.29L443.00 184.29L443.50 184.29L444.00 184.29L444.50 184.28L445.00 184.28L445.50 184.27L446.00 184.27L446.50 184.26L447.00 184.26L447.50 184.25L448.00 184.24L448.50 184.24L449.00 184.23L449.50 184.22L450.00 184.21L450.50 184.21L451.00 184.20L451.50 184.19L452.00 184.18L452.50 184.17L453.00 184.16L453.50 184.15L454.00 184.14L454.50 184.13L455.00 184.12L455.50 184.11L456.00 184.10L456.50 184.08L457.00 184.07L457.50 184.06L458.00 184.05L458.50 184.03L459.00 184.02L459.50 184.01L460.00 184.00L460.50 183.98L461.00 183.97L461.50 183.96L462.00 183.94L462.50 183.93L463.00 183.91L463.50 183.90L464.00 183.88L464.50 183.87L465.00 183.86L465.50 183.84L466.00 183.83L466.50 183.81L467.00 183.80L467.50 183.78L468.00 183.77L468.50 183.75L469.00 183.74L469.50 183.72L470.00 183.70L470.50 183.69L471.00 183.67L471.50 183.66L472.00 183.64L472.50 183.63L473.00 183.61L473.50 183.60L474.00 183.58L474.50 183.57L475.00 183.55L475.50 183.54L476.00 183.52L476.50 183.50L477.00 183.49L477.50 183.47L478.00 183.46L478.50 183.44L479.00 183.43L479.50 183.41L480.00 183.40L480.50 183.39L481.00 183.37L481.50 183.36L482.00 183.34L482.50 183.32L483.00 183.31L483.50 183.29L484.00 183.28L484.50 183.26L485.00 183.24L485.50 183.23L486.00 183.21L486.50 183.19L487.00 183.17L487.50 183.16L488.00 183.14L488.50 183.12L489.00 183.10L489.50 183.08L490.00 183.06L490.50 183.05L491.00 183.03L491.50 183.01L492.00 182.99L492.50 182.97L493.00 182.95L493.50 182.93L494.00 182.91L494.50 182.89L495.00 182.87L495.50 182.85L496.00 182.83L496.50 182.81L497.00 182.79L497.50 182.76L498.00 182.74L498.50 182.72L499.00 182.70L499.50 182.68L500.00 182.66L500.50 182.64L501.00 182.61L501.50 182.59L502.00 182.57L502.50 182.55L503.00 182.52L503.50 182.50L504.00 182.48L504.50 182.46L505.00 182.43L505.50 182.41L506.00 182.39L506.50 182.36L507.00 182.34L507.50 182.32L508.00 182.29L508.50 182.27L509.00 182.25L509.50 182.22L510.00 182.20L510.50 182.18L511.00 182.15L511.50 182.13L512.00 182.10L512.50 182.08L513.00 182.05L513.50 182.03L514.00 182.00L514.50 181.98L515.00 181.95L515.50 181.93L516.00 181.90L516.50 181.87L517.00 181.85L517.50 181.82L518.00 181.79L518.50 181.76L519.00 181.74L519.50 181.71L520.00 181.68L520.50 181.65L521.00 181.63L521.50 181.60L522.00 181.57L522.50 181.54L523.00 181.51L523.50 181.48L524.00 181.45L524.50 181.42L525.00 181.39L525.50 181.36L526.00 181.33L526.50 181.30L527.00 181.27L527.50 181.24L528.00 181.21L528.50 181.18L529.00 181.15L529.50 181.12L530.00 181.09L530.50 181.06L531.00 181.02L531.50 180.99L532.00 180.96L532.50 180.93L533.00 180.90L533.50 180.86L534.00 180.83L534.50 180.80L535.00 180.77L535.50 180.73L536.00 180.70L536.50 180.67L537.00 180.63L537.50 180.60" fill="none" stroke="#0d1a73" stroke-width="1.7" stroke-linejoin="round"/>
<path d="M65.50 183.95L65.80 177.80L66.10 181.12L66.40 179.48L66.70 179.23L67.00 179.12L67.30 176.47L67.60 178.31L67.90 177.13L68.20 181.97L68.50 177.71L68.80 176.60L69.10 176.30L69.40 175.43L69.70 174.57L70.00 175.02L70.30 175.73L70.60 174.45L70.90 175.58L71.20 173.76L71.50 173.68L71.80 175.22L72.10 173.61L72.40 171.94L72.70 171.99L73.00 172.54L73.30 173.93L73.60 170.82L73.90 170.50L74.20 171.70L74.50 168.99L74.80 169.37L75.10 170.48L75.40 169.74L75.70 168.76L76.00 169.12L76.30 164.37L76.60 168.80L76.90 165.94L77.20 164.65L77.50 166.67L77.80 166.78L78.10 164.92L78.40 163.70L78.70 164.65L79.00 164.12L79.30 165.54L79.60 164.31L79.90 163.24L80.20 164.03L80.50 162.04L80.80 160.82L81.10 162.39L81.40 162.08L81.70 160.79L82.00 159.78L82.30 160.76L82.60 157.08L82.90 160.80L83.20 160.30L83.50 157.39L83.80 159.29L84.10 157.80L84.40 159.75L84.70 156.07L85.00 157.28L85.30 159.13L85.60 159.52L85.90 155.20L86.20 157.11L86.50 157.99L86.80 156.66L87.10 159.27L87.40 155.65L87.70 157.44L88.00 155.56L88.30 158.50L88.60 156.60L88.90 156.04L89.20 154.25L89.50 158.40L89.80 157.14L90.10 157.03L90.40 157.41L90.70 156.32L91.00 154.99L91.30 154.70L91.60 154.62L91.90 157.28L92.20 153.70L92.50 154.76L92.80 155.10L93.10 155.81L93.40 156.30L93.70 154.09L94.00 153.58L94.30 155.84L94.60 157.48L94.90 157.04L95.20 156.50L95.50 155.98L95.80 156.90L96.10 156.38L96.40 157.86L96.70 156.00L97.00 157.32L97.30 157.16L97.60 158.15L97.90 157.94L98.20 161.04L98.50 159.93L98.80 160.15L99.10 155.96L99.40 158.32L99.70 158.22L100.00 159.89L100.30 156.63L100.60 161.19L100.90 161.30L101.20 158.59L101.50 159.23L101.80 159.69L102.10 160.98L102.40 161.95L102.70 163.93L103.00 161.34L103.30 162.76L103.60 162.21L103.90 164.43L104.20 163.37L104.50 164.36L104.80 161.52L105.10 162.84L105.40 162.28L105.70 165.41L106.00 164.57L106.30 163.60L106.60 163.66L106.90 165.07L107.20 163.84L107.50 163.81L107.80 165.85L108.10 168.61L108.40 165.52L108.70 165.44L109.00 164.98L109.30 165.10L109.60 167.75L109.90 168.48L110.20 167.76L110.50 168.50L110.80 168.56L111.10 168.92L111.40 167.16L111.70 168.81L112.00 169.84L112.30 169.03L112.60 169.71L112.90 169.56L113.20 170.44L113.50 172.18L113.80 170.85L114.10 171.41L114.40 172.85L114.70 172.86L115.00 174.40L115.30 169.88L115.60 173.78L115.90 172.31L116.20 173.28L116.50 174.36L116.80 174.87L117.10 175.01L117.40 174.10L117.70 176.11L118.00 173.94L118.30 174.31L118.60 175.68L118.90 174.18L119.20 177.77L119.50 176.54L119.80 178.18L120.10 175.63L120.40 175.40L120.70 176.30L121.00 177.23L121.30 175.80L121.60 177.23L121.90 176.96L122.20 179.22L122.50 176.59L122.80 178.94L123.10 177.04L123.40 176.85L123.70 177.35L124.00 176.94L124.30 178.78L124.60 180.05L124.90 179.12L125.20 179.82L125.50 181.21L125.80 179.64L126.10 179.67L126.40 179.20L126.70 177.65L127.00 180.73L127.30 177.70L127.60 180.82L127.90 180.09L128.20 181.62L128.50 180.22L128.80 179.37L129.10 180.94L129.40 179.88L129.70 180.43L130.00 180.78L130.30 180.63L130.60 180.62L130.90 179.87L131.20 180.72L131.50 178.33L131.80 180.84L132.10 179.58L132.40 182.51L132.70 182.73L133.00 178.74L133.30 181.39L133.60 181.09L133.90 179.96L134.20 181.96L134.50 180.75L134.80 179.13L135.10 181.03L135.40 181.19L135.70 181.52L136.00 179.86L136.30 182.17L136.60 182.32L136.90 179.96L137.20 180.56L137.50 181.26L137.80 180.63L138.10 183.49L138.40 181.54L138.70 179.98L139.00 180.21L139.30 181.08L139.60 183.98L139.90 180.83L140.20 181.16L140.50 181.59L140.80 180.84L141.10 183.68L141.40 180.11L141.70 181.64L142.00 180.85L142.30 181.36L142.60 179.05L142.90 182.67L143.20 180.23L143.50 180.34L143.80 179.04L144.10 179.20L144.40 180.72L144.70 181.14L145.00 180.73L145.30 181.18L145.60 180.44L145.90 179.45L146.20 180.33L146.50 179.89L146.80 178.88L147.10 179.78L147.40 180.33L147.70 178.87L148.00 177.99L148.30 179.19L148.60 180.52L148.90 177.73L149.20 177.74L149.50 177.53L149.80 179.07L150.10 175.09L150.40 177.67L150.70 178.54L151.00 175.86L151.30 178.55L151.60 177.18L151.90 175.64L152.20 176.40L152.50 174.04L152.80 175.06L153.10 177.86L153.40 174.27L153.70 177.50L154.00 174.91L154.30 176.07L154.60 174.69L154.90 171.65L155.20 173.56L155.50 174.34L155.80 172.49L156.10 172.07L156.40 174.05L156.70 172.61L157.00 171.14L157.30 172.24L157.60 174.01L157.90 172.18L158.20 173.77L158.50 174.35L158.80 172.32L159.10 170.70L159.40 170.32L159.70 171.74L160.00 172.71L160.30 171.77L160.60 171.94L160.90 170.52L161.20 171.26L161.50 170.11L161.80 170.09L162.10 168.68L162.40 168.12L162.70 169.27L163.00 168.27L163.30 168.23L163.60 170.03L163.90 168.82L164.20 172.36L164.50 169.64L164.80 167.44L165.10 168.96L165.40 168.19L165.70 166.64L166.00 168.62L166.30 166.03L166.60 162.93L166.90 167.50L167.20 165.50L167.50 167.89L167.80 164.99L168.10 164.10L168.40 167.29L168.70 163.79L169.00 165.17L169.30 166.51L169.60 164.63L169.90 164.17L170.20 164.19L170.50 164.90L170.80 162.63L171.10 164.19L171.40 163.94L171.70 165.93L172.00 162.38L172.30 161.45L172.60 163.30L172.90 161.67L173.20 162.32L173.50 161.90L173.80 162.98L174.10 160.48L174.40 160.96L174.70 157.66L175.00 159.50L175.30 162.30L175.60 159.29L175.90 159.02L176.20 158.12L176.50 160.12L176.80 159.37L177.10 157.41L177.40 159.48L177.70 158.72L178.00 159.08L178.30 157.09L178.60 159.82L178.90 157.91L179.20 157.02L179.50 156.28L179.80 156.39L180.10 157.54L180.40 155.91L180.70 157.39L181.00 156.56L181.30 157.31L181.60 156.45L181.90 155.15L182.20 152.65L182.50 155.21L182.80 155.63L183.10 154.66L183.40 154.97L183.70 153.50L184.00 153.43L184.30 152.55L184.60 155.25L184.90 153.57L185.20 152.59L185.50 151.37L185.80 152.68L186.10 154.52L186.40 153.13L186.70 151.49L187.00 154.03L187.30 153.89L187.60 153.18L187.90 152.80L188.20 153.11L188.50 152.20L188.80 152.35L189.10 150.26L189.40 152.98L189.70 151.25L190.00 153.36L190.30 148.15L190.60 151.45L190.90 151.67L191.20 149.90L191.50 150.77L191.80 151.03L192.10 150.70L192.40 149.20L192.70 149.60L193.00 150.95L193.30 151.18L193.60 149.62L193.90 149.51L194.20 149.58L194.50 150.54L194.80 147.84L195.10 147.41L195.40 149.14L195.70 147.52L196.00 148.09L196.30 148.85L196.60 149.26L196.90 147.24L197.20 149.50L197.50 146.21L197.80 149.04L198.10 146.32L198.40 146.64L198.70 148.98L199.00 147.61L199.30 147.08L199.60 147.47L199.90 148.57L200.20 147.89L200.50 147.90L200.80 149.23L201.10 147.01L201.40 147.31L201.70 147.25L202.00 149.37L202.30 149.16L202.60 149.55L202.90 147.92L203.20 147.79L203.50 149.08L203.80 147.56L204.10 149.13L204.40 149.03L204.70 147.30L205.00 148.11L205.30 148.12L205.60 150.48L205.90 151.60L206.20 148.29L206.50 148.49L206.80 145.68L207.10 148.85L207.40 148.63L207.70 147.36L208.00 149.74L208.30 146.88L208.60 148.65L208.90 149.18L209.20 147.54L209.50 150.28L209.80 150.64L210.10 147.71L210.40 147.80L210.70 150.44L211.00 149.78L211.30 148.44L211.60 149.72L211.90 150.09L212.20 150.18L212.50 151.53L212.80 151.11L213.10 152.98L213.40 152.62L213.70 151.88L214.00 152.50L214.30 152.94L214.60 152.29L214.90 150.00L215.20 152.73L215.50 151.87L215.80 153.93L216.10 152.15L216.40 152.82L216.70 152.71L217.00 154.53L217.30 152.78L217.60 152.35L217.90 153.20L218.20 152.40L218.50 153.29L218.80 153.21L219.10 153.69L219.40 155.89L219.70 153.12L220.00 153.81L220.30 153.66L220.60 154.89L220.90 152.71L221.20 153.47L221.50 154.43L221.80 155.31L222.10 154.72L222.40 154.30L222.70 153.99L223.00 155.86L223.30 157.18L223.60 155.93L223.90 155.92L224.20 156.39L224.50 154.82L224.80 155.76L225.10 155.97L225.40 156.83L225.70 156.58L226.00 155.26L226.30 158.34L226.60 159.21L226.90 156.92L227.20 157.91L227.50 157.90L227.80 158.71L228.10 156.03L228.40 160.06L228.70 157.62L229.00 159.94L229.30 158.62L229.60 158.19L229.90 158.67L230.20 160.13L230.50 158.09L230.80 158.86L231.10 158.89L231.40 157.52L231.70 161.46L232.00 160.73L232.30 160.15L232.60 161.80L232.90 159.33L233.20 160.61L233.50 163.04L233.80 162.29L234.10 158.47L234.40 157.28L234.70 160.35L235.00 163.17L235.30 161.45L235.60 161.97L235.90 163.21L236.20 161.54L236.50 163.12L236.80 164.05L237.10 163.84L237.40 163.95L237.70 162.91L238.00 164.50L238.30 163.52L238.60 165.88L238.90 167.65L239.20 163.69L239.50 162.08L239.80 164.45L240.10 165.62L240.40 166.64L240.70 166.85L241.00 164.69L241.30 164.84L241.60 167.59L241.90 164.80L242.20 167.69L242.50 166.21L242.80 167.61L243.10 167.70L243.40 167.95L243.70 168.16L244.00 166.06L244.30 167.83L244.60 167.63L244.90 168.16L245.20 169.47L245.50 167.75L245.80 167.36L246.10 167.50L246.40 168.18L246.70 169.67L247.00 167.87L247.30 170.49L247.60 169.57L247.90 169.08L248.20 167.86L248.50 169.98L248.80 170.70L249.10 167.79L249.40 171.64L249.70 172.36L250.00 170.88L250.30 171.23L250.60 173.78L250.90 172.45L251.20 169.94L251.50 171.19L251.80 171.16L252.10 171.32L252.40 168.69L252.70 172.74L253.00 171.14L253.30 172.28L253.60 172.04L253.90 173.44L254.20 172.12L254.50 171.64L254.80 173.43L255.10 174.66L255.40 172.64L255.70 174.89L256.00 173.63L256.30 172.77L256.60 175.47L256.90 172.67L257.20 175.09L257.50 173.33L257.80 174.64L258.10 172.66L258.40 173.27L258.70 175.77L259.00 174.79L259.30 174.72L259.60 174.24L259.90 175.46L260.20 173.27L260.50 173.73L260.80 175.04L261.10 174.31L261.40 174.58L261.70 175.48L262.00 175.50L262.30 175.50L262.60 177.97L262.90 177.26L263.20 177.63L263.50 176.17L263.80 175.67L264.10 174.59L264.40 176.08L264.70 174.01L265.00 175.99L265.30 177.78L265.60 178.95L265.90 178.23L266.20 176.05L266.50 177.85L266.80 176.35L267.10 178.47L267.40 177.41L267.70 178.72L268.00 180.97L268.30 179.01L268.60 180.88L268.90 178.29L269.20 177.76L269.50 179.94L269.80 180.53L270.10 177.78L270.40 178.67L270.70 176.88L271.00 178.52L271.30 179.98L271.60 178.86L271.90 178.35L272.20 177.39L272.50 179.70L272.80 180.33L273.10 180.16L273.40 179.82L273.70 178.00L274.00 181.88L274.30 179.69L274.60 179.67L274.90 180.85L275.20 177.31L275.50 180.01L275.80 180.00L276.10 180.72L276.40 182.02L276.70 181.00L277.00 178.20L277.30 180.14L277.60 180.90L277.90 180.90L278.20 179.19L278.50 178.78L278.80 181.62L279.10 181.43L279.40 181.04L279.70 178.98L280.00 183.42L280.30 177.65L280.60 180.88L280.90 184.02L281.20 181.27L281.50 181.82L281.80 180.12L282.10 183.36L282.40 180.10L282.70 182.10L283.00 182.01L283.30 180.59L283.60 183.07L283.90 180.25L284.20 181.22L284.50 182.09L284.80 181.66L285.10 182.82L285.40 183.44L285.70 181.97L286.00 181.71L286.30 181.79L286.60 182.03L286.90 183.55L287.20 182.32L287.50 183.15L287.80 182.58L288.10 181.68L288.40 183.87L288.70 181.54L289.00 182.89L289.30 184.78L289.60 181.60L289.90 182.94L290.20 181.06L290.50 182.44L290.80 181.24L291.10 182.69L291.40 182.50L291.70 183.36L292.00 185.19L292.30 183.59L292.60 184.08L292.90 183.21L293.20 182.99L293.50 182.27L293.80 181.08L294.10 183.43L294.40 185.40L294.70 183.97L295.00 182.72L295.30 185.47L295.60 182.88L295.90 182.66L296.20 181.93L296.50 182.25L296.80 183.16L297.10 185.97L297.40 183.22L297.70 182.20L298.00 182.74L298.30 183.22L298.60 181.37L298.90 183.67L299.20 184.39L299.50 183.92L299.80 184.28L300.10 181.92L300.40 181.42L300.70 185.15L301.00 184.92L301.30 181.63L301.60 183.82L301.90 183.59L302.20 184.25L302.50 183.83L302.80 182.95L303.10 183.82L303.40 183.78L303.70 183.53L304.00 181.28L304.30 179.85L304.60 182.61L304.90 181.56L305.20 183.92L305.50 184.51L305.80 183.94L306.10 183.15L306.40 183.71L306.70 185.08L307.00 182.72L307.30 184.78L307.60 184.52L307.90 183.96L308.20 185.45L308.50 182.74L308.80 184.82L309.10 182.49L309.40 182.69L309.70 182.33L310.00 184.21L310.30 182.48L310.60 183.72L310.90 182.24L311.20 185.00L311.50 185.96L311.80 183.95L312.10 185.72L312.40 184.37L312.70 186.39L313.00 183.80L313.30 181.71L313.60 185.54L313.90 183.52L314.20 182.39L314.50 182.86L314.80 181.65L315.10 183.48L315.40 182.35L315.70 185.55L316.00 184.52L316.30 181.62L316.60 181.81L316.90 182.99L317.20 181.29L317.50 183.56L317.80 183.65L318.10 182.74L318.40 183.02L318.70 184.33L319.00 185.49L319.30 185.58L319.60 183.75L319.90 184.78L320.20 182.79L320.50 184.23L320.80 182.52L321.10 184.63L321.40 182.17L321.70 182.51L322.00 183.71L322.30 184.42L322.60 181.93L322.90 183.05L323.20 183.89L323.50 184.01L323.80 182.68L324.10 183.85L324.40 183.40L324.70 185.49L325.00 184.43L325.30 182.08L325.60 180.98L325.90 183.86L326.20 185.21L326.50 183.95L326.80 184.84L327.10 183.13L327.40 182.03L327.70 184.68L328.00 183.86L328.30 184.60L328.60 182.02L328.90 183.97L329.20 182.96L329.50 184.75L329.80 183.02L330.10 182.99L330.40 183.02L330.70 185.33L331.00 183.79L331.30 182.80L331.60 182.47L331.90 182.45L332.20 185.58L332.50 181.48L332.80 182.69L333.10 184.55L333.40 185.23L333.70 183.57L334.00 184.74L334.30 184.71L334.60 184.99L334.90 183.82L335.20 185.83L335.50 184.03L335.80 185.70L336.10 182.41L336.40 184.96L336.70 182.22L337.00 181.92L337.30 184.42L337.60 182.77L337.90 184.36L338.20 182.47L338.50 185.82L338.80 183.83L339.10 182.40L339.40 184.04L339.70 184.93L340.00 182.86L340.30 184.47L340.60 186.39L340.90 184.92L341.20 183.82L341.50 183.13L341.80 184.56L342.10 181.95L342.40 180.04L342.70 183.01L343.00 182.49L343.30 186.03L343.60 184.03L343.90 182.62L344.20 182.40L344.50 184.48L344.80 182.82L345.10 183.13L345.40 183.75L345.70 183.97L346.00 183.99L346.30 184.01L346.60 185.50L346.90 186.00L347.20 181.81L347.50 187.10L347.80 184.04L348.10 185.44L348.40 182.96L348.70 184.29L349.00 184.16L349.30 184.03L349.60 184.96L349.90 184.68L350.20 182.64L350.50 183.75L350.80 184.81L351.10 184.76L351.40 183.48L351.70 183.55L352.00 183.71L352.30 182.52L352.60 182.29L352.90 185.87L353.20 183.41L353.50 184.03L353.80 182.97L354.10 185.53L354.40 186.10L354.70 183.64L355.00 184.55L355.30 182.97L355.60 186.12L355.90 185.07L356.20 182.87L356.50 185.48L356.80 184.37L357.10 184.44L357.40 184.37L357.70 183.08L358.00 183.25L358.30 184.70L358.60 183.86L358.90 182.74L359.20 186.46L359.50 183.66L359.80 183.22L360.10 183.05L360.40 184.79L360.70 185.14L361.00 184.23L361.30 185.01L361.60 182.05L361.90 183.46L362.20 183.34L362.50 183.93L362.80 184.54L363.10 181.38L363.40 187.84L363.70 182.84L364.00 184.36L364.30 184.96L364.60 184.99L364.90 184.23L365.20 180.29L365.50 182.57L365.80 184.87L366.10 182.77L366.40 182.60L366.70 180.98L367.00 185.44L367.30 184.56L367.60 182.80L367.90 183.75L368.20 183.79L368.50 182.52L368.80 183.57L369.10 184.23L369.40 184.60L369.70 185.49L370.00 183.94L370.30 183.33L370.60 184.41L370.90 183.12L371.20 182.34L371.50 185.33L371.80 183.43L372.10 184.05L372.40 184.72L372.70 182.52L373.00 184.71L373.30 184.47L373.60 183.78L373.90 184.40L374.20 182.96L374.50 181.15L374.80 183.56L375.10 182.77L375.40 185.00L375.70 184.24L376.00 183.25L376.30 183.98L376.60 185.61L376.90 185.34L377.20 184.38L377.50 184.46L377.80 183.57L378.10 183.76L378.40 184.66L378.70 183.78L379.00 184.30L379.30 182.53L379.60 181.84L379.90 181.80L380.20 183.38L380.50 185.59L380.80 185.41L381.10 182.69L381.40 181.99L381.70 184.93L382.00 184.51L382.30 182.23L382.60 185.26L382.90 184.16L383.20 185.60L383.50 184.37L383.80 185.06L384.10 184.35L384.40 182.75L384.70 183.66L385.00 183.10L385.30 184.99L385.60 182.70L385.90 182.03L386.20 184.81L386.50 185.39L386.80 185.76L387.10 185.32L387.40 182.07L387.70 183.09L388.00 183.27L388.30 183.93L388.60 181.27L388.90 183.95L389.20 184.31L389.50 182.77L389.80 184.11L390.10 185.46L390.40 184.02L390.70 185.29L391.00 185.24L391.30 184.48L391.60 184.45L391.90 183.51L392.20 185.53L392.50 183.39L392.80 183.11L393.10 184.86L393.40 183.07L393.70 184.51L394.00 185.31L394.30 184.09L394.60 184.12L394.90 185.14L395.20 184.93L395.50 182.07L395.80 182.36L396.10 185.66L396.40 184.49L396.70 181.40L397.00 182.32L397.30 184.04L397.60 182.78L397.90 184.60L398.20 184.11L398.50 184.63L398.80 182.56L399.10 184.79L399.40 186.47L399.70 183.03L400.00 185.67L400.30 185.25L400.60 184.83L400.90 183.95L401.20 182.58L401.50 182.94L401.80 184.99L402.10 185.26L402.40 185.57L402.70 185.25L403.00 185.18L403.30 183.51L403.60 182.54L403.90 184.31L404.20 184.68L404.50 184.17L404.80 182.16L405.10 183.41L405.40 182.22L405.70 184.25L406.00 182.76L406.30 183.87L406.60 184.48L406.90 184.25L407.20 185.79L407.50 182.70L407.80 181.36L408.10 185.27L408.40 185.85L408.70 185.89L409.00 184.46L409.30 184.78L409.60 184.26L409.90 182.49L410.20 183.40L410.50 184.74L410.80 183.40L411.10 186.51L411.40 182.20L411.70 183.59L412.00 185.52L412.30 183.38L412.60 182.72L412.90 182.44L413.20 183.24L413.50 186.04L413.80 184.66L414.10 184.80L414.40 183.51L414.70 185.22L415.00 184.30L415.30 183.02L415.60 183.61L415.90 184.43L416.20 185.64L416.50 184.11L416.80 184.81L417.10 186.71L417.40 183.19L417.70 182.64L418.00 185.43L418.30 184.75L418.60 184.08L418.90 184.54L419.20 183.80L419.50 184.86L419.80 183.80L420.10 185.22L420.40 182.76L420.70 183.21L421.00 184.38L421.30 183.65L421.60 185.11L421.90 184.19L422.20 183.56L422.50 184.51L422.80 183.59L423.10 182.31L423.40 182.84L423.70 183.26L424.00 183.67L424.30 184.39L424.60 185.41L424.90 184.96L425.20 186.50L425.50 185.87L425.80 184.05L426.10 186.35L426.40 185.77L426.70 183.73L427.00 184.68L427.30 185.67L427.60 184.60L427.90 185.57L428.20 184.80L428.50 185.19L428.80 183.91L429.10 184.79L429.40 183.86L429.70 185.16L430.00 182.21L430.30 184.74L430.60 185.89L430.90 185.05L431.20 184.30L431.50 185.01L431.80 183.28L432.10 183.30L432.40 183.89L432.70 184.15L433.00 185.55L433.30 183.22L433.60 185.59L433.90 182.38L434.20 183.36L434.50 184.30L434.80 185.79L435.10 183.58L435.40 181.67L435.70 184.88L436.00 184.32L436.30 183.00L436.60 183.05L436.90 183.48L437.20 184.48L437.50 185.18L437.80 182.51L438.10 187.22L438.40 184.31L438.70 183.89L439.00 185.20L439.30 184.49L439.60 187.28L439.90 185.73L440.20 183.90L440.50 183.87L440.80 183.73L441.10 183.93L441.40 185.19L441.70 183.55L442.00 186.37L442.30 184.25L442.60 184.17L442.90 185.53L443.20 181.87L443.50 183.17L443.80 185.09L444.10 184.35L444.40 184.32L444.70 184.83L445.00 183.58L445.30 184.11L445.60 182.62L445.90 181.98L446.20 185.90L446.50 183.15L446.80 183.42L447.10 186.05L447.40 185.63L447.70 183.64L448.00 183.63L448.30 184.19L448.60 183.09L448.90 184.97L449.20 184.46L449.50 184.43L449.80 185.21L450.10 185.16L450.40 186.56L450.70 186.15L451.00 182.11L451.30 185.36L451.60 182.84L451.90 182.44L452.20 185.11L452.50 183.34L452.80 183.82L453.10 185.54L453.40 183.37L453.70 183.07L454.00 184.60L454.30 185.71L454.60 184.84L454.90 182.23L455.20 183.35L455.50 183.96L455.80 186.56L456.10 185.26L456.40 185.20L456.70 185.63L457.00 183.73L457.30 184.71L457.60 184.72L457.90 182.88L458.20 184.07L458.50 184.79L458.80 182.73L459.10 185.08L459.40 185.01L459.70 185.34L460.00 183.08L460.30 184.17L460.60 185.84L460.90 185.01L461.20 183.03L461.50 184.28L461.80 185.77L462.10 183.89L462.40 184.45L462.70 187.18L463.00 183.91L463.30 183.82L463.60 182.69L463.90 183.11L464.20 185.78L464.50 183.74L464.80 182.42L465.10 182.73L465.40 183.89L465.70 184.83L466.00 182.94L466.30 184.75L466.60 183.24L466.90 184.28L467.20 184.47L467.50 184.57L467.80 183.26L468.10 183.58L468.40 184.41L468.70 182.15L469.00 183.97L469.30 184.39L469.60 185.04L469.90 183.68L470.20 183.48L470.50 183.88L470.80 182.78L471.10 183.42L471.40 184.18L471.70 184.01L472.00 182.34L472.30 183.23L472.60 180.98L472.90 184.62L473.20 182.94L473.50 183.89L473.80 182.21L474.10 183.47L474.40 184.12L474.70 184.78L475.00 181.84L475.30 184.58L475.60 183.31L475.90 182.54L476.20 184.09L476.50 183.12L476.80 183.11L477.10 182.59L477.40 183.74L477.70 183.49L478.00 183.22L478.30 182.23L478.60 182.78L478.90 183.91L479.20 185.00L479.50 183.36L479.80 185.15L480.10 183.36L480.40 182.00L480.70 184.14L481.00 182.14L481.30 183.84L481.60 184.66L481.90 182.93L482.20 183.20L482.50 186.38L482.80 183.59L483.10 183.61L483.40 184.25L483.70 183.14L484.00 183.14L484.30 183.72L484.60 180.25L484.90 184.99L485.20 181.88L485.50 181.86L485.80 183.87L486.10 183.22L486.40 181.61L486.70 183.43L487.00 181.73L487.30 182.27L487.60 181.25L487.90 182.09L488.20 183.60L488.50 183.25L488.80 183.47L489.10 184.23L489.40 183.01L489.70 182.23L490.00 182.69L490.30 185.09L490.60 183.06L490.90 183.41L491.20 182.88L491.50 183.29L491.80 183.51L492.10 182.95L492.40 182.76L492.70 181.96L493.00 181.87L493.30 183.42L493.60 183.84L493.90 184.04L494.20 182.95L494.50 181.84L494.80 183.64L495.10 183.61L495.40 180.96L495.70 183.82L496.00 183.53L496.30 184.87L496.60 181.37L496.90 181.17L497.20 183.74L497.50 180.50L497.80 181.82L498.10 181.36L498.40 181.44L498.70 180.32L499.00 182.38L499.30 183.88L499.60 183.21L499.90 183.20L500.20 182.19L500.50 184.42L500.80 183.26L501.10 183.90L501.40 180.65L501.70 183.00L502.00 181.13L502.30 182.98L502.60 182.78L502.90 181.11L503.20 182.73L503.50 183.94L503.80 183.11L504.10 183.20L504.40 181.38L504.70 181.60L505.00 181.04L505.30 182.58L505.60 183.88L505.90 182.93L506.20 182.37L506.50 180.97L506.80 182.90L507.10 182.04L507.40 179.95L507.70 180.16L508.00 181.87L508.30 181.17L508.60 184.32L508.90 182.30L509.20 180.95L509.50 181.62L509.80 184.19L510.10 181.02L510.40 183.14L510.70 182.72L511.00 183.98L511.30 182.80L511.60 181.63L511.90 182.77L512.20 182.18L512.50 183.30L512.80 181.99L513.10 184.52L513.40 181.91L513.70 182.57L514.00 181.20L514.30 182.15L514.60 182.02L514.90 182.18L515.20 183.07L515.50 181.27L515.80 180.87L516.10 183.29L516.40 181.54L516.70 181.04L517.00 183.30L517.30 182.81L517.60 178.54L517.90 181.34L518.20 182.78L518.50 182.82L518.80 181.13L519.10 183.70L519.40 180.75L519.70 181.43L520.00 181.86L520.30 181.68L520.60 182.68L520.90 182.93L521.20 181.58L521.50 183.36L521.80 180.76L522.10 181.33L522.40 183.71L522.70 181.68L523.00 182.87L523.30 180.99L523.60 181.18L523.90 181.36L524.20 181.69L524.50 181.04L524.80 181.46L525.10 182.26L525.40 182.91L525.70 181.52L526.00 182.18L526.30 182.49L526.60 180.00L526.90 179.36L527.20 183.31L527.50 182.92L527.80 181.34L528.10 181.68L528.40 180.06L528.70 179.49L529.00 181.58L529.30 179.32L529.60 182.29L529.90 180.29L530.20 181.48L530.50 183.50L530.80 183.42L531.10 180.72L531.40 182.37L531.70 179.74L532.00 180.27L532.30 181.44L532.60 182.68L532.90 180.23L533.20 181.59L533.50 181.03L533.80 179.31L534.10 180.69L534.40 182.71L534.70 180.71L535.00 181.43L535.30 181.81L535.60 179.84L535.90 182.27L536.20 182.59L536.50 182.69L536.80 182.31L537.10 180.08L537.40 179.91" fill="none" stroke="#0d1a73" stroke-width="0.8" stroke-linejoin="round"/>
<line x1="537.6" y1="7.5" x2="537.6" y2="431.5" stroke="#707070" stroke-width="1.3"/>
<line x1="65" y1="7.5" x2="538.2" y2="7.5" stroke="#111" stroke-width="1.2"/>
<line x1="65.5" y1="7" x2="65.5" y2="425" stroke="#111" stroke-width="1.1"/>
<line x1="65" y1="424.6" x2="538" y2="424.6" stroke="#444" stroke-width="1.1"/>
<line x1="69.79" y1="424.6" x2="69.79" y2="427.8" stroke="#555" stroke-width="1"/>
<line x1="77.09" y1="424.6" x2="77.09" y2="427.8" stroke="#555" stroke-width="1"/>
<line x1="84.39" y1="424.6" x2="84.39" y2="427.8" stroke="#555" stroke-width="1"/>
<line x1="91.70" y1="424.6" x2="91.70" y2="427.8" stroke="#555" stroke-width="1"/>
<line x1="99.00" y1="424.6" x2="99.00" y2="431.6" stroke="#666" stroke-width="1.1"/>
<line x1="106.30" y1="424.6" x2="106.30" y2="427.8" stroke="#555" stroke-width="1"/>
<line x1="113.61" y1="424.6" x2="113.61" y2="427.8" stroke="#555" stroke-width="1"/>
<line x1="120.91" y1="424.6" x2="120.91" y2="427.8" stroke="#555" stroke-width="1"/>
<line x1="128.21" y1="424.6" x2="128.21" y2="427.8" stroke="#555" stroke-width="1"/>
<line x1="135.51" y1="424.6" x2="135.51" y2="427.8" stroke="#555" stroke-width="1"/>
<line x1="142.82" y1="424.6" x2="142.82" y2="427.8" stroke="#555" stroke-width="1"/>
<line x1="150.12" y1="424.6" x2="150.12" y2="427.8" stroke="#555" stroke-width="1"/>
<line x1="157.42" y1="424.6" x2="157.42" y2="427.8" stroke="#555" stroke-width="1"/>
<line x1="164.73" y1="424.6" x2="164.73" y2="427.8" stroke="#555" stroke-width="1"/>
<line x1="172.03" y1="424.6" x2="172.03" y2="431.6" stroke="#666" stroke-width="1.1"/>
<line x1="179.33" y1="424.6" x2="179.33" y2="427.8" stroke="#555" stroke-width="1"/>
<line x1="186.64" y1="424.6" x2="186.64" y2="427.8" stroke="#555" stroke-width="1"/>
<line x1="193.94" y1="424.6" x2="193.94" y2="427.8" stroke="#555" stroke-width="1"/>
<line x1="201.24" y1="424.6" x2="201.24" y2="427.8" stroke="#555" stroke-width="1"/>
<line x1="208.55" y1="424.6" x2="208.55" y2="427.8" stroke="#555" stroke-width="1"/>
<line x1="215.85" y1="424.6" x2="215.85" y2="427.8" stroke="#555" stroke-width="1"/>
<line x1="223.15" y1="424.6" x2="223.15" y2="427.8" stroke="#555" stroke-width="1"/>
<line x1="230.45" y1="424.6" x2="230.45" y2="427.8" stroke="#555" stroke-width="1"/>
<line x1="237.76" y1="424.6" x2="237.76" y2="427.8" stroke="#555" stroke-width="1"/>
<line x1="245.06" y1="424.6" x2="245.06" y2="431.6" stroke="#666" stroke-width="1.1"/>
<line x1="252.36" y1="424.6" x2="252.36" y2="427.8" stroke="#555" stroke-width="1"/>
<line x1="259.67" y1="424.6" x2="259.67" y2="427.8" stroke="#555" stroke-width="1"/>
<line x1="266.97" y1="424.6" x2="266.97" y2="427.8" stroke="#555" stroke-width="1"/>
<line x1="274.27" y1="424.6" x2="274.27" y2="427.8" stroke="#555" stroke-width="1"/>
<line x1="281.57" y1="424.6" x2="281.57" y2="427.8" stroke="#555" stroke-width="1"/>
<line x1="288.88" y1="424.6" x2="288.88" y2="427.8" stroke="#555" stroke-width="1"/>
<line x1="296.18" y1="424.6" x2="296.18" y2="427.8" stroke="#555" stroke-width="1"/>
<line x1="303.48" y1="424.6" x2="303.48" y2="427.8" stroke="#555" stroke-width="1"/>
<line x1="310.79" y1="424.6" x2="310.79" y2="427.8" stroke="#555" stroke-width="1"/>
<line x1="318.09" y1="424.6" x2="318.09" y2="431.6" stroke="#666" stroke-width="1.1"/>
<line x1="325.39" y1="424.6" x2="325.39" y2="427.8" stroke="#555" stroke-width="1"/>
<line x1="332.70" y1="424.6" x2="332.70" y2="427.8" stroke="#555" stroke-width="1"/>
<line x1="340.00" y1="424.6" x2="340.00" y2="427.8" stroke="#555" stroke-width="1"/>
<line x1="347.30" y1="424.6" x2="347.30" y2="427.8" stroke="#555" stroke-width="1"/>
<line x1="354.61" y1="424.6" x2="354.61" y2="427.8" stroke="#555" stroke-width="1"/>
<line x1="361.91" y1="424.6" x2="361.91" y2="427.8" stroke="#555" stroke-width="1"/>
<line x1="369.21" y1="424.6" x2="369.21" y2="427.8" stroke="#555" stroke-width="1"/>
<line x1="376.51" y1="424.6" x2="376.51" y2="427.8" stroke="#555" stroke-width="1"/>
<line x1="383.82" y1="424.6" x2="383.82" y2="427.8" stroke="#555" stroke-width="1"/>
<line x1="391.12" y1="424.6" x2="391.12" y2="431.6" stroke="#666" stroke-width="1.1"/>
<line x1="398.42" y1="424.6" x2="398.42" y2="427.8" stroke="#555" stroke-width="1"/>
<line x1="405.73" y1="424.6" x2="405.73" y2="427.8" stroke="#555" stroke-width="1"/>
<line x1="413.03" y1="424.6" x2="413.03" y2="427.8" stroke="#555" stroke-width="1"/>
<line x1="420.33" y1="424.6" x2="420.33" y2="427.8" stroke="#555" stroke-width="1"/>
<line x1="427.63" y1="424.6" x2="427.63" y2="427.8" stroke="#555" stroke-width="1"/>
<line x1="434.94" y1="424.6" x2="434.94" y2="427.8" stroke="#555" stroke-width="1"/>
<line x1="442.24" y1="424.6" x2="442.24" y2="427.8" stroke="#555" stroke-width="1"/>
<line x1="449.54" y1="424.6" x2="449.54" y2="427.8" stroke="#555" stroke-width="1"/>
<line x1="456.85" y1="424.6" x2="456.85" y2="427.8" stroke="#555" stroke-width="1"/>
<line x1="464.15" y1="424.6" x2="464.15" y2="431.6" stroke="#666" stroke-width="1.1"/>
<line x1="471.45" y1="424.6" x2="471.45" y2="427.8" stroke="#555" stroke-width="1"/>
<line x1="478.76" y1="424.6" x2="478.76" y2="427.8" stroke="#555" stroke-width="1"/>
<line x1="486.06" y1="424.6" x2="486.06" y2="427.8" stroke="#555" stroke-width="1"/>
<line x1="493.36" y1="424.6" x2="493.36" y2="427.8" stroke="#555" stroke-width="1"/>
<line x1="500.67" y1="424.6" x2="500.67" y2="427.8" stroke="#555" stroke-width="1"/>
<line x1="507.97" y1="424.6" x2="507.97" y2="427.8" stroke="#555" stroke-width="1"/>
<line x1="515.27" y1="424.6" x2="515.27" y2="427.8" stroke="#555" stroke-width="1"/>
<line x1="522.57" y1="424.6" x2="522.57" y2="427.8" stroke="#555" stroke-width="1"/>
<line x1="529.88" y1="424.6" x2="529.88" y2="427.8" stroke="#555" stroke-width="1"/>
<line x1="537.18" y1="424.6" x2="537.18" y2="431.6" stroke="#666" stroke-width="1.1"/>
<line x1="60" y1="63.3" x2="65.5" y2="63.3" stroke="#555" stroke-width="1"/>
<line x1="60" y1="82.4" x2="65.5" y2="82.4" stroke="#555" stroke-width="1"/>
<line x1="60" y1="102.3" x2="65.5" y2="102.3" stroke="#555" stroke-width="1"/>
<line x1="60" y1="121.8" x2="65.5" y2="121.8" stroke="#555" stroke-width="1"/>
<line x1="60" y1="137.6" x2="65.5" y2="137.6" stroke="#555" stroke-width="1"/>
<line x1="60" y1="154.5" x2="65.5" y2="154.5" stroke="#555" stroke-width="1"/>
<line x1="60" y1="172.2" x2="65.5" y2="172.2" stroke="#555" stroke-width="1"/>
<line x1="60" y1="189.5" x2="65.5" y2="189.5" stroke="#555" stroke-width="1"/>
<line x1="60" y1="200.4" x2="65.5" y2="200.4" stroke="#555" stroke-width="1"/>
<line x1="60" y1="218.7" x2="65.5" y2="218.7" stroke="#555" stroke-width="1"/>
<line x1="60" y1="236.0" x2="65.5" y2="236.0" stroke="#555" stroke-width="1"/>
<line x1="60" y1="244.4" x2="65.5" y2="244.4" stroke="#555" stroke-width="1"/>
<line x1="60" y1="256.9" x2="65.5" y2="256.9" stroke="#555" stroke-width="1"/>
<line x1="60" y1="269.3" x2="65.5" y2="269.3" stroke="#555" stroke-width="1"/>
<line x1="60" y1="282.0" x2="65.5" y2="282.0" stroke="#555" stroke-width="1"/>
<line x1="60" y1="292.6" x2="65.5" y2="292.6" stroke="#555" stroke-width="1"/>
<line x1="60" y1="295.5" x2="65.5" y2="295.5" stroke="#555" stroke-width="1"/>
<line x1="60" y1="318.0" x2="65.5" y2="318.0" stroke="#555" stroke-width="1"/>
<line x1="60" y1="342.7" x2="65.5" y2="342.7" stroke="#555" stroke-width="1"/>
<line x1="60" y1="366.9" x2="65.5" y2="366.9" stroke="#555" stroke-width="1"/>
<line x1="60" y1="386.3" x2="65.5" y2="386.3" stroke="#555" stroke-width="1"/>
<line x1="60" y1="406.8" x2="65.5" y2="406.8" stroke="#555" stroke-width="1"/>
<line x1="60" y1="424.5" x2="65.5" y2="424.5" stroke="#555" stroke-width="1"/>
<text x="57.6" y="67.0" text-anchor="end" style="font-family:'Liberation Sans',Arial,sans-serif;font-size:13.5px" fill="#1a1a1a" stroke="#1a1a1a" stroke-width="0.2">30k</text>
<text x="57.3" y="86.0" text-anchor="end" style="font-family:'Liberation Sans',Arial,sans-serif;font-size:13.5px" fill="#1a1a1a" stroke="#1a1a1a" stroke-width="0.2">20k</text>
<text x="57.4" y="106.2" text-anchor="end" style="font-family:'Liberation Sans',Arial,sans-serif;font-size:13.5px" fill="#1a1a1a" stroke="#1a1a1a" stroke-width="0.2">10k</text>
<text x="57.7" y="123.3" text-anchor="end" style="font-family:'Liberation Sans',Arial,sans-serif;font-size:13.5px" fill="#1a1a1a" stroke="#1a1a1a" stroke-width="0.2">0</text>
<text x="58.4" y="141.4" text-anchor="end" style="font-family:'Liberation Sans',Arial,sans-serif;font-size:13.5px" fill="#1a1a1a" stroke="#1a1a1a" stroke-width="0.2">20k</text>
<text x="58.4" y="159.3" text-anchor="end" style="font-family:'Liberation Sans',Arial,sans-serif;font-size:13.5px" fill="#1a1a1a" stroke="#1a1a1a" stroke-width="0.2">10k</text>
<text x="58.4" y="176.8" text-anchor="end" style="font-family:'Liberation Sans',Arial,sans-serif;font-size:13.5px" fill="#1a1a1a" stroke="#1a1a1a" stroke-width="0.2">5k</text>
<text x="58.0" y="192.7" text-anchor="end" style="font-family:'Liberation Sans',Arial,sans-serif;font-size:13.5px" fill="#1a1a1a" stroke="#1a1a1a" stroke-width="0.2">0</text>
<text x="57.5" y="205.2" text-anchor="end" style="font-family:'Liberation Sans',Arial,sans-serif;font-size:13.5px" fill="#1a1a1a" stroke="#1a1a1a" stroke-width="0.2">4k</text>
<text x="57.5" y="222.5" text-anchor="end" style="font-family:'Liberation Sans',Arial,sans-serif;font-size:13.5px" fill="#1a1a1a" stroke="#1a1a1a" stroke-width="0.2">2k</text>
<text x="57.5" y="237.4" text-anchor="end" style="font-family:'Liberation Sans',Arial,sans-serif;font-size:13.5px" fill="#1a1a1a" stroke="#1a1a1a" stroke-width="0.2">0</text>
<text x="56.7" y="249.2" text-anchor="end" style="font-family:'Liberation Sans',Arial,sans-serif;font-size:13.5px" fill="#1a1a1a" stroke="#1a1a1a" stroke-width="0.2">80k</text>
<text x="56.7" y="274.2" text-anchor="end" style="font-family:'Liberation Sans',Arial,sans-serif;font-size:13.5px" fill="#1a1a1a" stroke="#1a1a1a" stroke-width="0.2">40k</text>
<text x="56.7" y="293.9" text-anchor="end" style="font-family:'Liberation Sans',Arial,sans-serif;font-size:13.5px" fill="#1a1a1a" stroke="#1a1a1a" stroke-width="0.2">0</text>
<text x="55.7" y="323.5" text-anchor="end" style="font-family:'Liberation Sans',Arial,sans-serif;font-size:13.5px" fill="#1a1a1a" stroke="#1a1a1a" stroke-width="0.2">2k</text>
<text x="55.7" y="348.2" text-anchor="end" style="font-family:'Liberation Sans',Arial,sans-serif;font-size:13.5px" fill="#1a1a1a" stroke="#1a1a1a" stroke-width="0.2">1k</text>
<text x="57.5" y="372.6" text-anchor="end" style="font-family:'Liberation Sans',Arial,sans-serif;font-size:13.5px" fill="#1a1a1a" stroke="#1a1a1a" stroke-width="0.2">0</text>
<text x="55.1" y="391.0" text-anchor="end" style="font-family:'Liberation Sans',Arial,sans-serif;font-size:13.1px" fill="#1a1a1a" stroke="#1a1a1a" stroke-width="0.2">1000k</text>
<text x="55.1" y="411.5" text-anchor="end" style="font-family:'Liberation Sans',Arial,sans-serif;font-size:13.1px" fill="#1a1a1a" stroke="#1a1a1a" stroke-width="0.2">500k</text>
<text x="58.0" y="428.1" text-anchor="end" style="font-family:'Liberation Sans',Arial,sans-serif;font-size:13.5px" fill="#1a1a1a" stroke="#1a1a1a" stroke-width="0.2">0</text>
<text x="99.7" y="445.8" text-anchor="middle" style="font-family:'Liberation Sans',Arial,sans-serif;font-size:12px" fill="#1a1a1a" stroke="#1a1a1a" stroke-width="0.2">10</text>
<text x="172.7" y="445.8" text-anchor="middle" style="font-family:'Liberation Sans',Arial,sans-serif;font-size:12px" fill="#1a1a1a" stroke="#1a1a1a" stroke-width="0.2">20</text>
<text x="245.8" y="445.8" text-anchor="middle" style="font-family:'Liberation Sans',Arial,sans-serif;font-size:12px" fill="#1a1a1a" stroke="#1a1a1a" stroke-width="0.2">30</text>
<text x="318.8" y="445.8" text-anchor="middle" style="font-family:'Liberation Sans',Arial,sans-serif;font-size:12px" fill="#1a1a1a" stroke="#1a1a1a" stroke-width="0.2">40</text>
<text x="391.8" y="445.8" text-anchor="middle" style="font-family:'Liberation Sans',Arial,sans-serif;font-size:12px" fill="#1a1a1a" stroke="#1a1a1a" stroke-width="0.2">50</text>
<text x="464.8" y="445.8" text-anchor="middle" style="font-family:'Liberation Sans',Arial,sans-serif;font-size:12px" fill="#1a1a1a" stroke="#1a1a1a" stroke-width="0.2">60</text>
<text x="537.9" y="445.8" text-anchor="middle" style="font-family:'Liberation Sans',Arial,sans-serif;font-size:12px" fill="#1a1a1a" stroke="#1a1a1a" stroke-width="0.2">70</text>
<text x="281.5" y="460.1" textLength="69.4" lengthAdjust="spacingAndGlyphs" style="font-family:'Liberation Sans',Arial,sans-serif;font-size:14.3px" fill="#111" stroke="#111" stroke-width="0.2">2Theta [°]</text>
<text transform="translate(20.6 227.2) rotate(-90)" text-anchor="middle" textLength="118.8" lengthAdjust="spacingAndGlyphs" style="font-family:'Liberation Sans',Arial,sans-serif;font-size:15.8px" fill="#111" stroke="#111" stroke-width="0.2">Intensity [counts]</text>
<text x="70" y="84.4" style="font-family:'Liberation Sans',Arial,sans-serif;font-size:12px;font-weight:bold" fill="#000" stroke="#000" stroke-width="0.3">4</text>
<text x="68.6" y="214.0" style="font-family:'Liberation Sans',Arial,sans-serif;font-size:12px;font-weight:bold" fill="#000" stroke="#000" stroke-width="0.3">3</text>
<text x="70.2" y="267.7" style="font-family:'Liberation Sans',Arial,sans-serif;font-size:12px;font-weight:bold" fill="#000" stroke="#000" stroke-width="0.3">2b</text>
<text x="69.3" y="337.4" style="font-family:'Liberation Sans',Arial,sans-serif;font-size:12px;font-weight:bold" fill="#000" stroke="#000" stroke-width="0.3">2a</text>
<text x="71.4" y="399.5" style="font-family:'Liberation Sans',Arial,sans-serif;font-size:12px;font-weight:bold" fill="#000" stroke="#000" stroke-width="0.3">1</text>
<text x="65.6" y="140.9" textLength="124" lengthAdjust="spacingAndGlyphs" style="font-family:'Liberation Sans',Arial,sans-serif;font-size:13px;font-weight:bold" fill="#000" stroke="#000" stroke-width="0.25">BTESE derived xerogel</text>
<text x="110.0" y="52.4" text-anchor="middle" style="font-family:'Liberation Sans',Arial,sans-serif;font-size:10.3px" fill="#1a1a1a" stroke="#1a1a1a" stroke-width="0.2">(003)</text>
<text x="190.0" y="74.9" text-anchor="middle" style="font-family:'Liberation Sans',Arial,sans-serif;font-size:10.3px" fill="#1a1a1a" stroke="#1a1a1a" stroke-width="0.2">(006)</text>
<text x="275.2" y="76.8" text-anchor="middle" style="font-family:'Liberation Sans',Arial,sans-serif;font-size:10.3px" fill="#1a1a1a" stroke="#1a1a1a" stroke-width="0.2">(012)</text>
<text x="305.6" y="88.1" text-anchor="middle" style="font-family:'Liberation Sans',Arial,sans-serif;font-size:10.3px" fill="#1a1a1a" stroke="#1a1a1a" stroke-width="0.2">(015)</text>
<text x="355.3" y="88.7" text-anchor="middle" style="font-family:'Liberation Sans',Arial,sans-serif;font-size:10.3px" fill="#1a1a1a" stroke="#1a1a1a" stroke-width="0.2">(018)</text>
<text x="463.6" y="76.4" text-anchor="middle" style="font-family:'Liberation Sans',Arial,sans-serif;font-size:10.3px" fill="#1a1a1a" stroke="#1a1a1a" stroke-width="0.2">(110)</text>
<text x="482.2" y="88.1" text-anchor="middle" style="font-family:'Liberation Sans',Arial,sans-serif;font-size:10.3px" fill="#1a1a1a" stroke="#1a1a1a" stroke-width="0.2">(113)</text>
<polygon points="107.8,51.0 102.1,58.9 113.5,58.9" fill="#ff0000"/>
<polygon points="188.2,82.0 182.5,90.0 193.9,90.0" fill="#ff0000"/>
<polygon points="277.3,85.4 271.6,92.8 283.0,92.8" fill="#ff0000"/>
<polygon points="305.5,95.2 299.8,102.8 311.2,102.8" fill="#ff0000"/>
<polygon points="357.5,97.2 351.8,105.4 363.2,105.4" fill="#ff0000"/>
<polygon points="465.9,89.1 460.2,96.7 471.6,96.7" fill="#ff0000"/>
<polygon points="475.7,92.0 470.0,99.6 481.4,99.6" fill="#ff0000"/>
<polygon points="105.6,187.6 99.9,195.3 111.3,195.3" fill="#ff0000"/>
<polygon points="188.3,207.7 182.6,215.6 194.0,215.6" fill="#ff0000"/>
<polygon points="276.3,215.1 270.6,223.4 282.0,223.4" fill="#ff0000"/>
<polygon points="109.2,231.7 103.5,239.7 114.9,239.7" fill="#ff0000"/>
<polygon points="190.7,266.0 185.0,274.8 196.4,274.8" fill="#ff0000"/>
<polygon points="108.6,291.9 102.9,299.5 114.3,299.5" fill="#ff0000"/>
<polygon points="192.2,331.2 186.5,338.9 197.9,338.9" fill="#ff0000"/>
<polygon points="277.3,349.3 271.6,357.5 283.0,357.5" fill="#ff0000"/>
<polygon points="108.0,365.0 102.3,372.7 113.7,372.7" fill="#ff0000"/>
<polygon points="189.4,395.6 183.7,403.2 195.1,403.2" fill="#ff0000"/>
<polygon points="288.2,392.2 282.5,399.6 293.9,399.6" fill="#ff0000"/>
<polygon points="467.8,391.3 462.1,399.3 473.5,399.3" fill="#ff0000"/>
<rect x="221.9" y="214.9" width="8.9" height="8.9" fill="#0000ff"/>
<rect x="251.2" y="193.0" width="8.8" height="8.8" fill="#0000ff"/>
<rect x="352.6" y="207.1" width="8.4" height="8.4" fill="#0000ff"/>
<rect x="433.1" y="216.9" width="8.2" height="8.2" fill="#0000ff"/>
<polygon points="342.3,97.1 347.40000000000003,102.6 342.3,108.1 337.2,102.6" fill="#ff33cc" stroke="#4646b0" stroke-width="0.9"/>
<polygon points="339.7,210.0 344.59999999999997,215.2 339.7,220.39999999999998 334.8,215.2" fill="#ff33cc" stroke="#4646b0" stroke-width="0.9"/>
<polygon points="479.4,209.29999999999998 484.29999999999995,214.7 479.4,220.1 474.5,214.7" fill="#ff33cc" stroke="#4646b0" stroke-width="0.9"/>
<rect x="76.3" y="13.4" width="12.2" height="13.2" fill="#0000ff"/>
<polygon points="250.1,12.8 241.9,25.6 258.3,25.6" fill="#ff0000"/>
<polygon points="419.5,12.499999999999998 426.9,20.4 419.5,28.299999999999997 412.1,20.4" fill="#ff33cc" stroke="#4646b0" stroke-width="0.9"/>
<text x="97.9" y="23.6" style="font-family:'Liberation Sans',Arial,sans-serif;font-size:11.4px" fill="#1a1a1a" stroke="#1a1a1a" stroke-width="0.2">00-001-0994</text>
<text x="261.9" y="23.6" style="font-family:'Liberation Sans',Arial,sans-serif;font-size:11.4px" fill="#1a1a1a" stroke="#1a1a1a" stroke-width="0.2">00-035-0965</text>
<text x="432.4" y="23.6" style="font-family:'Liberation Sans',Arial,sans-serif;font-size:11.4px" fill="#1a1a1a" stroke="#1a1a1a" stroke-width="0.2">01-089-7746</text>
<text x="117.7" y="37.1" style="font-family:'Liberation Sans',Arial,sans-serif;font-size:11.4px" fill="#1a1a1a" stroke="#1a1a1a" stroke-width="0.2">NaCl</text>
<text x="458.9" y="37.1" style="font-family:'Liberation Sans',Arial,sans-serif;font-size:11.4px" fill="#1a1a1a" stroke="#1a1a1a" stroke-width="0.2">MgO</text>
<text x="231.4" y="37.1" style="font-family:'Liberation Sans',Arial,sans-serif;font-size:11.4px;letter-spacing:0.15px" fill="#1a1a1a" stroke="#1a1a1a" stroke-width="0.2">Mg<tspan font-size="7" dy="2.6">6</tspan><tspan dy="-2.6">Al</tspan><tspan font-size="7" dy="2.6">2</tspan><tspan dy="-2.6">(OH)</tspan><tspan font-size="7" dy="2.6">18</tspan><tspan dy="-2.6">•4.5H</tspan><tspan font-size="7" dy="2.6">2</tspan><tspan dy="-2.6">O</tspan></text>
</svg>
</body></html>
